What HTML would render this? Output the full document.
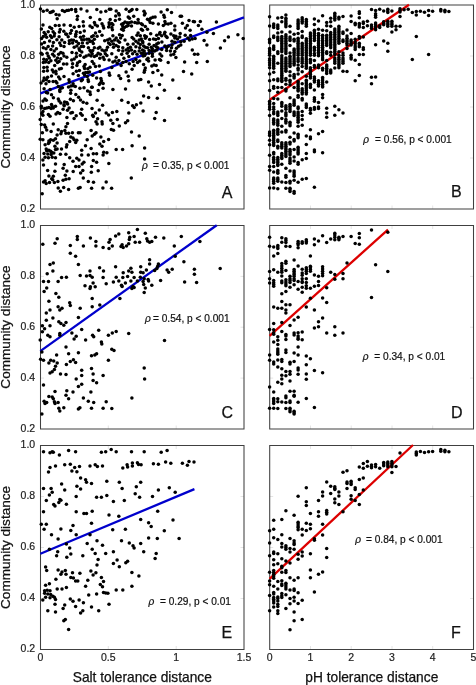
<!DOCTYPE html><html><head><meta charset="utf-8"><style>html,body{margin:0;padding:0;background:#fff;width:476px;height:685px;overflow:hidden}svg{display:block}text{font-family:"Liberation Sans",Arial,sans-serif}</style></head><body>
<svg width="476" height="685" viewBox="0 0 476 685">
<rect width="476" height="685" fill="#fff"/>
<line x1="108.3" y1="209.0" x2="108.3" y2="205.5" stroke="#ddd" stroke-width="0.8"/>
<line x1="108.3" y1="5.0" x2="108.3" y2="8.5" stroke="#ddd" stroke-width="0.8"/>
<line x1="176.2" y1="209.0" x2="176.2" y2="205.5" stroke="#ddd" stroke-width="0.8"/>
<line x1="176.2" y1="5.0" x2="176.2" y2="8.5" stroke="#ddd" stroke-width="0.8"/>
<line x1="40.5" y1="56.0" x2="44.0" y2="56.0" stroke="#ddd" stroke-width="0.8"/>
<line x1="244.0" y1="56.0" x2="240.5" y2="56.0" stroke="#ddd" stroke-width="0.8"/>
<line x1="40.5" y1="107.0" x2="44.0" y2="107.0" stroke="#ddd" stroke-width="0.8"/>
<line x1="244.0" y1="107.0" x2="240.5" y2="107.0" stroke="#ddd" stroke-width="0.8"/>
<line x1="40.5" y1="158.0" x2="44.0" y2="158.0" stroke="#ddd" stroke-width="0.8"/>
<line x1="244.0" y1="158.0" x2="240.5" y2="158.0" stroke="#ddd" stroke-width="0.8"/>
<path d="M40.5 4.5V209.5M40.0 209.0H244.5M244.0 209.5V4.5M244.5 5.0H40.0" stroke="#404040" stroke-width="1.05" fill="none"/>
<line x1="40.5" y1="93.3" x2="244.0" y2="17.3" stroke="#0000cc" stroke-width="2.3"/>
<g fill="#000"><circle cx="96.8" cy="9.6" r="1.75"/><circle cx="100.9" cy="12.0" r="1.75"/><circle cx="105.8" cy="11.2" r="1.75"/><circle cx="109.4" cy="9.3" r="1.75"/><circle cx="110.8" cy="9.3" r="1.75"/><circle cx="116.2" cy="10.9" r="1.75"/><circle cx="118.6" cy="13.4" r="1.75"/><circle cx="119.3" cy="15.0" r="1.75"/><circle cx="126.1" cy="9.3" r="1.75"/><circle cx="129.3" cy="11.5" r="1.75"/><circle cx="131.0" cy="10.6" r="1.75"/><circle cx="132.1" cy="9.6" r="1.75"/><circle cx="136.8" cy="9.6" r="1.75"/><circle cx="99.8" cy="19.6" r="1.75"/><circle cx="110.2" cy="19.4" r="1.75"/><circle cx="115.7" cy="16.1" r="1.75"/><circle cx="119.5" cy="19.2" r="1.75"/><circle cx="115.3" cy="20.5" r="1.75"/><circle cx="128.2" cy="17.0" r="1.75"/><circle cx="129.5" cy="18.3" r="1.75"/><circle cx="133.7" cy="16.3" r="1.75"/><circle cx="138.1" cy="19.4" r="1.75"/><circle cx="141.3" cy="23.8" r="1.75"/><circle cx="94.4" cy="22.4" r="1.75"/><circle cx="95.2" cy="24.8" r="1.75"/><circle cx="97.4" cy="25.9" r="1.75"/><circle cx="92.2" cy="27.6" r="1.75"/><circle cx="102.0" cy="23.8" r="1.75"/><circle cx="103.1" cy="25.9" r="1.75"/><circle cx="103.7" cy="27.9" r="1.75"/><circle cx="109.1" cy="22.7" r="1.75"/><circle cx="109.4" cy="24.6" r="1.75"/><circle cx="111.8" cy="23.5" r="1.75"/><circle cx="112.9" cy="24.8" r="1.75"/><circle cx="108.6" cy="27.0" r="1.75"/><circle cx="111.8" cy="27.6" r="1.75"/><circle cx="112.4" cy="29.8" r="1.75"/><circle cx="121.7" cy="24.3" r="1.75"/><circle cx="123.3" cy="23.5" r="1.75"/><circle cx="125.0" cy="22.1" r="1.75"/><circle cx="127.1" cy="22.7" r="1.75"/><circle cx="129.3" cy="22.7" r="1.75"/><circle cx="131.5" cy="22.1" r="1.75"/><circle cx="134.8" cy="22.4" r="1.75"/><circle cx="137.0" cy="22.9" r="1.75"/><circle cx="138.6" cy="22.7" r="1.75"/><circle cx="122.8" cy="26.5" r="1.75"/><circle cx="124.4" cy="27.6" r="1.75"/><circle cx="126.6" cy="26.2" r="1.75"/><circle cx="128.2" cy="25.4" r="1.75"/><circle cx="131.5" cy="25.9" r="1.75"/><circle cx="121.7" cy="29.2" r="1.75"/><circle cx="123.3" cy="30.3" r="1.75"/><circle cx="141.3" cy="29.2" r="1.75"/><circle cx="95.5" cy="33.0" r="1.75"/><circle cx="99.6" cy="31.6" r="1.75"/><circle cx="102.0" cy="35.2" r="1.75"/><circle cx="138.1" cy="33.0" r="1.75"/><circle cx="93.3" cy="35.8" r="1.75"/><circle cx="97.1" cy="36.3" r="1.75"/><circle cx="112.9" cy="35.8" r="1.75"/><circle cx="119.5" cy="34.7" r="1.75"/><circle cx="122.2" cy="35.6" r="1.75"/><circle cx="116.2" cy="38.0" r="1.75"/><circle cx="120.6" cy="38.0" r="1.75"/><circle cx="132.1" cy="37.4" r="1.75"/><circle cx="137.0" cy="35.2" r="1.75"/><circle cx="140.3" cy="35.8" r="1.75"/><circle cx="94.4" cy="39.3" r="1.75"/><circle cx="92.2" cy="41.2" r="1.75"/><circle cx="104.7" cy="40.7" r="1.75"/><circle cx="107.5" cy="40.1" r="1.75"/><circle cx="109.7" cy="39.1" r="1.75"/><circle cx="111.8" cy="41.2" r="1.75"/><circle cx="114.6" cy="40.1" r="1.75"/><circle cx="117.9" cy="40.7" r="1.75"/><circle cx="125.0" cy="40.1" r="1.75"/><circle cx="133.7" cy="39.1" r="1.75"/><circle cx="135.9" cy="41.2" r="1.75"/><circle cx="139.2" cy="40.1" r="1.75"/><circle cx="141.3" cy="39.1" r="1.75"/><circle cx="93.3" cy="43.4" r="1.75"/><circle cx="108.6" cy="42.9" r="1.75"/><circle cx="110.2" cy="44.5" r="1.75"/><circle cx="113.5" cy="44.0" r="1.75"/><circle cx="119.5" cy="42.3" r="1.75"/><circle cx="127.7" cy="44.3" r="1.75"/><circle cx="133.2" cy="44.0" r="1.75"/><circle cx="138.1" cy="42.9" r="1.75"/><circle cx="140.3" cy="44.5" r="1.75"/><circle cx="94.4" cy="47.8" r="1.75"/><circle cx="98.2" cy="48.3" r="1.75"/><circle cx="99.8" cy="47.2" r="1.75"/><circle cx="107.5" cy="47.2" r="1.75"/><circle cx="113.5" cy="47.2" r="1.75"/><circle cx="116.2" cy="45.6" r="1.75"/><circle cx="118.4" cy="46.7" r="1.75"/><circle cx="122.8" cy="47.8" r="1.75"/><circle cx="128.2" cy="48.3" r="1.75"/><circle cx="130.4" cy="47.2" r="1.75"/><circle cx="135.9" cy="46.7" r="1.75"/><circle cx="139.7" cy="47.8" r="1.75"/><circle cx="92.7" cy="50.5" r="1.75"/><circle cx="102.0" cy="50.0" r="1.75"/><circle cx="104.2" cy="51.1" r="1.75"/><circle cx="106.4" cy="50.0" r="1.75"/><circle cx="118.6" cy="50.2" r="1.75"/><circle cx="122.8" cy="51.1" r="1.75"/><circle cx="126.1" cy="50.0" r="1.75"/><circle cx="128.8" cy="51.1" r="1.75"/><circle cx="131.5" cy="50.0" r="1.75"/><circle cx="134.8" cy="51.6" r="1.75"/><circle cx="139.2" cy="51.1" r="1.75"/><circle cx="92.2" cy="53.8" r="1.75"/><circle cx="98.2" cy="53.3" r="1.75"/><circle cx="100.4" cy="54.3" r="1.75"/><circle cx="105.3" cy="53.8" r="1.75"/><circle cx="111.8" cy="53.8" r="1.75"/><circle cx="121.7" cy="54.3" r="1.75"/><circle cx="127.1" cy="53.3" r="1.75"/><circle cx="132.6" cy="53.8" r="1.75"/><circle cx="137.0" cy="54.3" r="1.75"/><circle cx="141.3" cy="53.3" r="1.75"/><circle cx="144.0" cy="11.2" r="1.75"/><circle cx="145.1" cy="13.4" r="1.75"/><circle cx="144.4" cy="15.0" r="1.75"/><circle cx="161.1" cy="12.0" r="1.75"/><circle cx="167.3" cy="9.8" r="1.75"/><circle cx="171.5" cy="12.6" r="1.75"/><circle cx="163.8" cy="15.2" r="1.75"/><circle cx="164.4" cy="17.2" r="1.75"/><circle cx="180.2" cy="16.3" r="1.75"/><circle cx="181.5" cy="16.3" r="1.75"/><circle cx="147.5" cy="19.2" r="1.75"/><circle cx="149.1" cy="20.3" r="1.75"/><circle cx="150.7" cy="18.3" r="1.75"/><circle cx="152.9" cy="17.2" r="1.75"/><circle cx="155.1" cy="17.0" r="1.75"/><circle cx="150.2" cy="22.4" r="1.75"/><circle cx="152.9" cy="23.2" r="1.75"/><circle cx="158.4" cy="24.0" r="1.75"/><circle cx="164.9" cy="21.6" r="1.75"/><circle cx="165.5" cy="23.8" r="1.75"/><circle cx="168.2" cy="24.0" r="1.75"/><circle cx="170.9" cy="23.2" r="1.75"/><circle cx="163.3" cy="25.4" r="1.75"/><circle cx="142.5" cy="24.8" r="1.75"/><circle cx="145.3" cy="26.5" r="1.75"/><circle cx="174.8" cy="25.9" r="1.75"/><circle cx="182.4" cy="23.2" r="1.75"/><circle cx="187.3" cy="25.4" r="1.75"/><circle cx="189.0" cy="20.5" r="1.75"/><circle cx="193.3" cy="21.6" r="1.75"/><circle cx="185.5" cy="28.1" r="1.75"/><circle cx="147.5" cy="29.2" r="1.75"/><circle cx="142.5" cy="30.3" r="1.75"/><circle cx="160.0" cy="32.5" r="1.75"/><circle cx="164.9" cy="32.3" r="1.75"/><circle cx="170.9" cy="34.1" r="1.75"/><circle cx="174.8" cy="30.1" r="1.75"/><circle cx="173.7" cy="35.8" r="1.75"/><circle cx="175.9" cy="36.3" r="1.75"/><circle cx="180.2" cy="33.4" r="1.75"/><circle cx="185.2" cy="35.2" r="1.75"/><circle cx="190.1" cy="30.3" r="1.75"/><circle cx="190.6" cy="35.6" r="1.75"/><circle cx="174.8" cy="38.0" r="1.75"/><circle cx="177.5" cy="39.1" r="1.75"/><circle cx="179.7" cy="36.9" r="1.75"/><circle cx="187.9" cy="38.0" r="1.75"/><circle cx="189.5" cy="40.1" r="1.75"/><circle cx="192.3" cy="39.1" r="1.75"/><circle cx="172.0" cy="41.2" r="1.75"/><circle cx="174.8" cy="42.3" r="1.75"/><circle cx="180.8" cy="41.8" r="1.75"/><circle cx="184.1" cy="41.2" r="1.75"/><circle cx="168.2" cy="46.2" r="1.75"/><circle cx="172.0" cy="45.1" r="1.75"/><circle cx="178.6" cy="46.2" r="1.75"/><circle cx="180.8" cy="45.1" r="1.75"/><circle cx="171.5" cy="47.8" r="1.75"/><circle cx="176.4" cy="48.3" r="1.75"/><circle cx="170.4" cy="51.1" r="1.75"/><circle cx="174.8" cy="51.6" r="1.75"/><circle cx="192.3" cy="50.0" r="1.75"/><circle cx="173.7" cy="54.3" r="1.75"/><circle cx="194.5" cy="21.8" r="1.75"/><circle cx="200.3" cy="21.4" r="1.75"/><circle cx="198.4" cy="25.4" r="1.75"/><circle cx="201.9" cy="29.2" r="1.75"/><circle cx="206.9" cy="32.3" r="1.75"/><circle cx="213.4" cy="33.6" r="1.75"/><circle cx="216.4" cy="22.1" r="1.75"/><circle cx="195.1" cy="38.5" r="1.75"/><circle cx="204.1" cy="40.4" r="1.75"/><circle cx="206.9" cy="45.1" r="1.75"/><circle cx="224.6" cy="40.7" r="1.75"/><circle cx="228.4" cy="37.1" r="1.75"/><circle cx="237.9" cy="34.7" r="1.75"/><circle cx="243.2" cy="38.5" r="1.75"/><circle cx="220.4" cy="48.0" r="1.75"/><circle cx="197.8" cy="54.3" r="1.75"/><circle cx="194.5" cy="54.3" r="1.75"/><circle cx="64.2" cy="105.8" r="1.75"/><circle cx="52.2" cy="106.3" r="1.75"/><circle cx="55.5" cy="106.3" r="1.75"/><circle cx="41.3" cy="106.3" r="1.75"/><circle cx="94.4" cy="56.6" r="1.75"/><circle cx="96.6" cy="55.5" r="1.75"/><circle cx="99.8" cy="58.3" r="1.75"/><circle cx="103.1" cy="57.2" r="1.75"/><circle cx="104.2" cy="59.4" r="1.75"/><circle cx="106.9" cy="55.5" r="1.75"/><circle cx="109.1" cy="59.9" r="1.75"/><circle cx="112.9" cy="62.1" r="1.75"/><circle cx="115.1" cy="61.0" r="1.75"/><circle cx="116.2" cy="57.2" r="1.75"/><circle cx="117.3" cy="63.2" r="1.75"/><circle cx="118.9" cy="60.5" r="1.75"/><circle cx="121.1" cy="65.4" r="1.75"/><circle cx="122.8" cy="62.6" r="1.75"/><circle cx="123.9" cy="58.3" r="1.75"/><circle cx="126.1" cy="61.6" r="1.75"/><circle cx="128.8" cy="56.6" r="1.75"/><circle cx="129.3" cy="63.7" r="1.75"/><circle cx="133.2" cy="61.6" r="1.75"/><circle cx="134.2" cy="65.4" r="1.75"/><circle cx="135.9" cy="59.4" r="1.75"/><circle cx="137.5" cy="62.6" r="1.75"/><circle cx="139.7" cy="61.0" r="1.75"/><circle cx="132.1" cy="69.2" r="1.75"/><circle cx="92.2" cy="61.6" r="1.75"/><circle cx="93.8" cy="63.7" r="1.75"/><circle cx="95.5" cy="66.5" r="1.75"/><circle cx="99.3" cy="65.9" r="1.75"/><circle cx="100.4" cy="71.4" r="1.75"/><circle cx="111.8" cy="67.6" r="1.75"/><circle cx="92.7" cy="75.2" r="1.75"/><circle cx="96.6" cy="77.9" r="1.75"/><circle cx="100.9" cy="78.5" r="1.75"/><circle cx="101.5" cy="80.7" r="1.75"/><circle cx="109.1" cy="73.0" r="1.75"/><circle cx="109.7" cy="75.2" r="1.75"/><circle cx="118.9" cy="75.8" r="1.75"/><circle cx="120.6" cy="78.5" r="1.75"/><circle cx="126.1" cy="71.9" r="1.75"/><circle cx="128.2" cy="76.3" r="1.75"/><circle cx="128.8" cy="80.7" r="1.75"/><circle cx="138.6" cy="80.1" r="1.75"/><circle cx="140.8" cy="79.6" r="1.75"/><circle cx="100.4" cy="82.9" r="1.75"/><circle cx="99.3" cy="84.5" r="1.75"/><circle cx="103.1" cy="83.4" r="1.75"/><circle cx="92.2" cy="87.2" r="1.75"/><circle cx="98.2" cy="90.5" r="1.75"/><circle cx="103.1" cy="88.3" r="1.75"/><circle cx="112.9" cy="89.4" r="1.75"/><circle cx="125.5" cy="88.9" r="1.75"/><circle cx="97.1" cy="100.3" r="1.75"/><circle cx="121.7" cy="100.3" r="1.75"/><circle cx="128.2" cy="102.5" r="1.75"/><circle cx="102.6" cy="105.3" r="1.75"/><circle cx="132.6" cy="105.8" r="1.75"/><circle cx="136.4" cy="104.7" r="1.75"/><circle cx="140.8" cy="103.1" r="1.75"/><circle cx="143.1" cy="56.1" r="1.75"/><circle cx="144.7" cy="55.5" r="1.75"/><circle cx="146.9" cy="59.4" r="1.75"/><circle cx="148.0" cy="58.3" r="1.75"/><circle cx="148.6" cy="61.0" r="1.75"/><circle cx="152.4" cy="56.3" r="1.75"/><circle cx="155.1" cy="59.9" r="1.75"/><circle cx="159.5" cy="59.4" r="1.75"/><circle cx="160.6" cy="60.2" r="1.75"/><circle cx="161.7" cy="55.9" r="1.75"/><circle cx="170.9" cy="55.0" r="1.75"/><circle cx="175.9" cy="57.4" r="1.75"/><circle cx="168.2" cy="62.4" r="1.75"/><circle cx="184.6" cy="62.1" r="1.75"/><circle cx="143.6" cy="64.6" r="1.75"/><circle cx="151.8" cy="65.9" r="1.75"/><circle cx="154.0" cy="65.1" r="1.75"/><circle cx="156.2" cy="65.4" r="1.75"/><circle cx="145.3" cy="68.1" r="1.75"/><circle cx="144.7" cy="70.3" r="1.75"/><circle cx="144.2" cy="72.3" r="1.75"/><circle cx="152.9" cy="72.5" r="1.75"/><circle cx="157.8" cy="70.5" r="1.75"/><circle cx="161.7" cy="74.9" r="1.75"/><circle cx="183.5" cy="71.6" r="1.75"/><circle cx="191.7" cy="74.1" r="1.75"/><circle cx="148.6" cy="82.1" r="1.75"/><circle cx="151.3" cy="86.1" r="1.75"/><circle cx="159.5" cy="84.5" r="1.75"/><circle cx="172.8" cy="79.9" r="1.75"/><circle cx="164.4" cy="90.2" r="1.75"/><circle cx="143.6" cy="96.0" r="1.75"/><circle cx="148.6" cy="97.6" r="1.75"/><circle cx="157.3" cy="98.2" r="1.75"/><circle cx="179.1" cy="98.2" r="1.75"/><circle cx="196.7" cy="62.4" r="1.75"/><circle cx="207.3" cy="61.6" r="1.75"/><circle cx="41.3" cy="108.1" r="1.75"/><circle cx="44.6" cy="108.6" r="1.75"/><circle cx="46.7" cy="108.1" r="1.75"/><circle cx="48.9" cy="107.5" r="1.75"/><circle cx="51.1" cy="108.6" r="1.75"/><circle cx="53.3" cy="108.1" r="1.75"/><circle cx="42.9" cy="111.4" r="1.75"/><circle cx="41.8" cy="113.6" r="1.75"/><circle cx="42.9" cy="115.2" r="1.75"/><circle cx="48.4" cy="114.6" r="1.75"/><circle cx="50.0" cy="116.3" r="1.75"/><circle cx="56.0" cy="114.1" r="1.75"/><circle cx="57.7" cy="112.5" r="1.75"/><circle cx="59.8" cy="113.6" r="1.75"/><circle cx="63.1" cy="109.2" r="1.75"/><circle cx="67.5" cy="110.3" r="1.75"/><circle cx="69.1" cy="108.1" r="1.75"/><circle cx="70.8" cy="113.0" r="1.75"/><circle cx="72.4" cy="112.5" r="1.75"/><circle cx="66.9" cy="117.4" r="1.75"/><circle cx="74.1" cy="118.5" r="1.75"/><circle cx="76.2" cy="115.7" r="1.75"/><circle cx="80.6" cy="113.6" r="1.75"/><circle cx="82.2" cy="115.2" r="1.75"/><circle cx="81.7" cy="109.2" r="1.75"/><circle cx="85.5" cy="119.6" r="1.75"/><circle cx="40.2" cy="119.6" r="1.75"/><circle cx="41.3" cy="124.5" r="1.75"/><circle cx="44.6" cy="125.0" r="1.75"/><circle cx="45.6" cy="127.2" r="1.75"/><circle cx="53.3" cy="123.9" r="1.75"/><circle cx="67.5" cy="123.4" r="1.75"/><circle cx="65.9" cy="126.7" r="1.75"/><circle cx="46.7" cy="129.9" r="1.75"/><circle cx="42.4" cy="132.7" r="1.75"/><circle cx="51.1" cy="131.6" r="1.75"/><circle cx="58.2" cy="129.7" r="1.75"/><circle cx="61.5" cy="131.6" r="1.75"/><circle cx="60.9" cy="133.8" r="1.75"/><circle cx="64.8" cy="130.5" r="1.75"/><circle cx="65.9" cy="133.2" r="1.75"/><circle cx="68.6" cy="133.2" r="1.75"/><circle cx="72.4" cy="132.7" r="1.75"/><circle cx="78.4" cy="132.7" r="1.75"/><circle cx="80.1" cy="132.7" r="1.75"/><circle cx="57.1" cy="134.9" r="1.75"/><circle cx="40.2" cy="139.2" r="1.75"/><circle cx="42.9" cy="139.8" r="1.75"/><circle cx="48.9" cy="140.9" r="1.75"/><circle cx="50.6" cy="139.8" r="1.75"/><circle cx="53.3" cy="140.3" r="1.75"/><circle cx="55.5" cy="138.7" r="1.75"/><circle cx="70.8" cy="137.0" r="1.75"/><circle cx="73.0" cy="138.1" r="1.75"/><circle cx="74.1" cy="139.8" r="1.75"/><circle cx="76.8" cy="140.3" r="1.75"/><circle cx="75.7" cy="142.5" r="1.75"/><circle cx="69.7" cy="141.4" r="1.75"/><circle cx="87.2" cy="139.8" r="1.75"/><circle cx="45.1" cy="144.7" r="1.75"/><circle cx="48.4" cy="143.6" r="1.75"/><circle cx="49.5" cy="142.0" r="1.75"/><circle cx="57.1" cy="143.1" r="1.75"/><circle cx="66.9" cy="144.7" r="1.75"/><circle cx="66.4" cy="146.9" r="1.75"/><circle cx="54.9" cy="146.3" r="1.75"/><circle cx="85.5" cy="145.8" r="1.75"/><circle cx="46.2" cy="149.1" r="1.75"/><circle cx="46.7" cy="150.7" r="1.75"/><circle cx="48.9" cy="150.2" r="1.75"/><circle cx="50.6" cy="151.2" r="1.75"/><circle cx="51.7" cy="152.3" r="1.75"/><circle cx="55.5" cy="149.6" r="1.75"/><circle cx="57.1" cy="149.1" r="1.75"/><circle cx="61.5" cy="149.1" r="1.75"/><circle cx="81.7" cy="150.2" r="1.75"/><circle cx="44.0" cy="153.4" r="1.75"/><circle cx="47.8" cy="154.0" r="1.75"/><circle cx="51.1" cy="154.5" r="1.75"/><circle cx="53.8" cy="152.9" r="1.75"/><circle cx="60.4" cy="154.2" r="1.75"/><circle cx="65.9" cy="154.2" r="1.75"/><circle cx="81.7" cy="155.1" r="1.75"/><circle cx="88.3" cy="155.1" r="1.75"/><circle cx="45.1" cy="157.3" r="1.75"/><circle cx="48.4" cy="157.8" r="1.75"/><circle cx="52.2" cy="157.3" r="1.75"/><circle cx="55.5" cy="157.8" r="1.75"/><circle cx="69.7" cy="157.8" r="1.75"/><circle cx="76.8" cy="158.3" r="1.75"/><circle cx="92.0" cy="108.6" r="1.75"/><circle cx="99.3" cy="110.1" r="1.75"/><circle cx="134.2" cy="107.5" r="1.75"/><circle cx="95.5" cy="113.0" r="1.75"/><circle cx="92.7" cy="115.2" r="1.75"/><circle cx="93.3" cy="116.6" r="1.75"/><circle cx="106.2" cy="113.0" r="1.75"/><circle cx="108.6" cy="114.9" r="1.75"/><circle cx="112.4" cy="112.5" r="1.75"/><circle cx="116.8" cy="111.4" r="1.75"/><circle cx="128.8" cy="113.0" r="1.75"/><circle cx="97.6" cy="118.8" r="1.75"/><circle cx="96.0" cy="121.7" r="1.75"/><circle cx="97.1" cy="123.9" r="1.75"/><circle cx="102.0" cy="121.7" r="1.75"/><circle cx="102.2" cy="123.9" r="1.75"/><circle cx="110.8" cy="120.3" r="1.75"/><circle cx="112.9" cy="123.4" r="1.75"/><circle cx="117.3" cy="119.6" r="1.75"/><circle cx="119.3" cy="126.1" r="1.75"/><circle cx="125.5" cy="122.8" r="1.75"/><circle cx="127.7" cy="120.7" r="1.75"/><circle cx="91.1" cy="130.5" r="1.75"/><circle cx="111.3" cy="129.4" r="1.75"/><circle cx="113.5" cy="130.2" r="1.75"/><circle cx="131.5" cy="131.9" r="1.75"/><circle cx="96.0" cy="132.7" r="1.75"/><circle cx="94.4" cy="134.3" r="1.75"/><circle cx="92.2" cy="135.9" r="1.75"/><circle cx="100.9" cy="137.0" r="1.75"/><circle cx="139.2" cy="135.9" r="1.75"/><circle cx="108.6" cy="139.6" r="1.75"/><circle cx="103.7" cy="141.4" r="1.75"/><circle cx="99.8" cy="144.1" r="1.75"/><circle cx="102.0" cy="146.3" r="1.75"/><circle cx="132.1" cy="145.8" r="1.75"/><circle cx="91.1" cy="148.5" r="1.75"/><circle cx="116.2" cy="149.4" r="1.75"/><circle cx="122.6" cy="149.4" r="1.75"/><circle cx="93.3" cy="153.8" r="1.75"/><circle cx="96.6" cy="153.8" r="1.75"/><circle cx="103.7" cy="152.3" r="1.75"/><circle cx="106.9" cy="152.7" r="1.75"/><circle cx="103.1" cy="155.1" r="1.75"/><circle cx="143.1" cy="110.9" r="1.75"/><circle cx="156.2" cy="112.5" r="1.75"/><circle cx="154.7" cy="118.4" r="1.75"/><circle cx="164.5" cy="120.5" r="1.75"/><circle cx="144.6" cy="148.1" r="1.75"/><circle cx="144.6" cy="159.0" r="1.75"/><circle cx="42.9" cy="160.1" r="1.75"/><circle cx="43.5" cy="165.0" r="1.75"/><circle cx="55.5" cy="163.9" r="1.75"/><circle cx="64.2" cy="164.5" r="1.75"/><circle cx="73.0" cy="161.2" r="1.75"/><circle cx="79.0" cy="160.1" r="1.75"/><circle cx="82.2" cy="163.9" r="1.75"/><circle cx="83.9" cy="162.3" r="1.75"/><circle cx="75.7" cy="166.4" r="1.75"/><circle cx="79.0" cy="166.6" r="1.75"/><circle cx="47.6" cy="170.5" r="1.75"/><circle cx="54.9" cy="171.2" r="1.75"/><circle cx="63.1" cy="168.3" r="1.75"/><circle cx="66.9" cy="171.0" r="1.75"/><circle cx="73.2" cy="171.6" r="1.75"/><circle cx="80.6" cy="173.0" r="1.75"/><circle cx="82.8" cy="170.5" r="1.75"/><circle cx="48.9" cy="175.9" r="1.75"/><circle cx="53.3" cy="176.3" r="1.75"/><circle cx="51.7" cy="178.7" r="1.75"/><circle cx="52.7" cy="179.8" r="1.75"/><circle cx="65.3" cy="175.2" r="1.75"/><circle cx="43.5" cy="181.9" r="1.75"/><circle cx="45.1" cy="180.8" r="1.75"/><circle cx="46.2" cy="183.6" r="1.75"/><circle cx="49.5" cy="182.5" r="1.75"/><circle cx="54.4" cy="182.5" r="1.75"/><circle cx="57.9" cy="181.4" r="1.75"/><circle cx="63.1" cy="180.3" r="1.75"/><circle cx="65.9" cy="179.2" r="1.75"/><circle cx="69.1" cy="178.7" r="1.75"/><circle cx="83.3" cy="178.1" r="1.75"/><circle cx="88.3" cy="181.4" r="1.75"/><circle cx="58.2" cy="187.9" r="1.75"/><circle cx="60.4" cy="191.2" r="1.75"/><circle cx="63.7" cy="187.6" r="1.75"/><circle cx="68.6" cy="189.4" r="1.75"/><circle cx="78.4" cy="188.3" r="1.75"/><circle cx="80.1" cy="187.4" r="1.75"/><circle cx="42.2" cy="193.7" r="1.75"/><circle cx="93.3" cy="160.6" r="1.75"/><circle cx="96.6" cy="162.3" r="1.75"/><circle cx="108.8" cy="163.6" r="1.75"/><circle cx="91.6" cy="166.6" r="1.75"/><circle cx="91.3" cy="172.3" r="1.75"/><circle cx="98.2" cy="170.8" r="1.75"/><circle cx="93.5" cy="182.2" r="1.75"/><circle cx="106.2" cy="181.9" r="1.75"/><circle cx="91.6" cy="188.3" r="1.75"/><circle cx="102.9" cy="188.1" r="1.75"/><circle cx="111.6" cy="188.3" r="1.75"/><circle cx="131.3" cy="178.1" r="1.75"/><circle cx="40.5" cy="9.1" r="1.75"/><circle cx="43.3" cy="11.3" r="1.75"/><circle cx="47.1" cy="10.2" r="1.75"/><circle cx="50.1" cy="12.4" r="1.75"/><circle cx="51.7" cy="12.1" r="1.75"/><circle cx="53.1" cy="11.3" r="1.75"/><circle cx="56.1" cy="14.6" r="1.75"/><circle cx="59.1" cy="15.1" r="1.75"/><circle cx="57.2" cy="18.7" r="1.75"/><circle cx="62.4" cy="10.5" r="1.75"/><circle cx="64.6" cy="11.6" r="1.75"/><circle cx="66.8" cy="10.5" r="1.75"/><circle cx="68.7" cy="10.2" r="1.75"/><circle cx="71.5" cy="9.6" r="1.75"/><circle cx="75.6" cy="9.4" r="1.75"/><circle cx="75.8" cy="11.6" r="1.75"/><circle cx="81.0" cy="9.1" r="1.75"/><circle cx="87.0" cy="11.0" r="1.75"/><circle cx="77.5" cy="16.2" r="1.75"/><circle cx="77.2" cy="19.5" r="1.75"/><circle cx="90.3" cy="17.6" r="1.75"/><circle cx="83.2" cy="21.7" r="1.75"/><circle cx="43.0" cy="25.0" r="1.75"/><circle cx="49.8" cy="27.2" r="1.75"/><circle cx="51.7" cy="28.6" r="1.75"/><circle cx="55.3" cy="25.5" r="1.75"/><circle cx="59.1" cy="25.5" r="1.75"/><circle cx="64.0" cy="25.0" r="1.75"/><circle cx="41.4" cy="29.1" r="1.75"/><circle cx="44.1" cy="32.4" r="1.75"/><circle cx="48.2" cy="31.8" r="1.75"/><circle cx="53.1" cy="31.8" r="1.75"/><circle cx="54.5" cy="33.5" r="1.75"/><circle cx="60.2" cy="29.6" r="1.75"/><circle cx="59.4" cy="32.1" r="1.75"/><circle cx="63.8" cy="31.3" r="1.75"/><circle cx="65.7" cy="34.0" r="1.75"/><circle cx="45.5" cy="34.6" r="1.75"/><circle cx="46.6" cy="37.3" r="1.75"/><circle cx="43.3" cy="36.5" r="1.75"/><circle cx="50.4" cy="35.7" r="1.75"/><circle cx="51.7" cy="37.6" r="1.75"/><circle cx="54.2" cy="35.9" r="1.75"/><circle cx="59.1" cy="36.7" r="1.75"/><circle cx="41.6" cy="38.4" r="1.75"/><circle cx="56.9" cy="39.7" r="1.75"/><circle cx="61.8" cy="40.0" r="1.75"/><circle cx="49.6" cy="41.1" r="1.75"/><circle cx="44.4" cy="42.5" r="1.75"/><circle cx="53.4" cy="42.5" r="1.75"/><circle cx="59.7" cy="43.0" r="1.75"/><circle cx="41.6" cy="44.1" r="1.75"/><circle cx="64.6" cy="42.5" r="1.75"/><circle cx="70.4" cy="25.5" r="1.75"/><circle cx="74.2" cy="27.2" r="1.75"/><circle cx="79.1" cy="26.4" r="1.75"/><circle cx="83.5" cy="26.1" r="1.75"/><circle cx="90.0" cy="26.1" r="1.75"/><circle cx="71.5" cy="30.5" r="1.75"/><circle cx="70.4" cy="33.2" r="1.75"/><circle cx="76.4" cy="31.8" r="1.75"/><circle cx="75.8" cy="34.3" r="1.75"/><circle cx="80.2" cy="32.6" r="1.75"/><circle cx="84.3" cy="31.0" r="1.75"/><circle cx="66.5" cy="34.3" r="1.75"/><circle cx="68.2" cy="36.7" r="1.75"/><circle cx="75.6" cy="36.2" r="1.75"/><circle cx="80.5" cy="37.3" r="1.75"/><circle cx="83.5" cy="36.2" r="1.75"/><circle cx="91.7" cy="36.7" r="1.75"/><circle cx="69.3" cy="40.8" r="1.75"/><circle cx="71.5" cy="40.0" r="1.75"/><circle cx="73.6" cy="40.3" r="1.75"/><circle cx="76.4" cy="41.4" r="1.75"/><circle cx="81.8" cy="39.7" r="1.75"/><circle cx="84.0" cy="39.7" r="1.75"/><circle cx="86.8" cy="39.2" r="1.75"/><circle cx="88.9" cy="39.2" r="1.75"/><circle cx="90.0" cy="41.4" r="1.75"/><circle cx="69.3" cy="43.6" r="1.75"/><circle cx="72.6" cy="43.0" r="1.75"/><circle cx="78.6" cy="43.6" r="1.75"/><circle cx="82.4" cy="43.0" r="1.75"/><circle cx="87.3" cy="43.0" r="1.75"/><circle cx="43.3" cy="47.7" r="1.75"/><circle cx="46.0" cy="48.8" r="1.75"/><circle cx="48.2" cy="46.6" r="1.75"/><circle cx="50.9" cy="49.4" r="1.75"/><circle cx="52.6" cy="46.1" r="1.75"/><circle cx="54.2" cy="51.0" r="1.75"/><circle cx="56.4" cy="48.8" r="1.75"/><circle cx="60.8" cy="45.5" r="1.75"/><circle cx="64.0" cy="46.6" r="1.75"/><circle cx="41.1" cy="53.2" r="1.75"/><circle cx="42.2" cy="54.3" r="1.75"/><circle cx="47.1" cy="53.2" r="1.75"/><circle cx="48.2" cy="55.9" r="1.75"/><circle cx="52.6" cy="54.3" r="1.75"/><circle cx="54.2" cy="55.9" r="1.75"/><circle cx="58.6" cy="54.3" r="1.75"/><circle cx="60.8" cy="52.6" r="1.75"/><circle cx="62.9" cy="53.2" r="1.75"/><circle cx="64.0" cy="55.9" r="1.75"/><circle cx="43.8" cy="59.2" r="1.75"/><circle cx="46.6" cy="59.7" r="1.75"/><circle cx="49.3" cy="58.1" r="1.75"/><circle cx="50.9" cy="60.8" r="1.75"/><circle cx="55.8" cy="60.3" r="1.75"/><circle cx="57.5" cy="58.1" r="1.75"/><circle cx="60.8" cy="58.7" r="1.75"/><circle cx="43.3" cy="62.5" r="1.75"/><circle cx="45.5" cy="61.9" r="1.75"/><circle cx="48.7" cy="62.5" r="1.75"/><circle cx="57.5" cy="62.5" r="1.75"/><circle cx="59.1" cy="61.4" r="1.75"/><circle cx="63.5" cy="64.1" r="1.75"/><circle cx="74.2" cy="47.2" r="1.75"/><circle cx="76.9" cy="46.1" r="1.75"/><circle cx="79.1" cy="48.8" r="1.75"/><circle cx="81.3" cy="46.6" r="1.75"/><circle cx="83.5" cy="46.6" r="1.75"/><circle cx="79.7" cy="50.5" r="1.75"/><circle cx="81.8" cy="52.1" r="1.75"/><circle cx="88.4" cy="47.7" r="1.75"/><circle cx="90.0" cy="50.5" r="1.75"/><circle cx="91.1" cy="52.1" r="1.75"/><circle cx="72.0" cy="52.4" r="1.75"/><circle cx="76.4" cy="53.2" r="1.75"/><circle cx="80.2" cy="55.4" r="1.75"/><circle cx="76.4" cy="56.7" r="1.75"/><circle cx="66.8" cy="57.3" r="1.75"/><circle cx="84.0" cy="57.3" r="1.75"/><circle cx="86.2" cy="55.9" r="1.75"/><circle cx="88.9" cy="55.1" r="1.75"/><circle cx="91.1" cy="55.9" r="1.75"/><circle cx="74.2" cy="58.9" r="1.75"/><circle cx="71.7" cy="60.0" r="1.75"/><circle cx="79.7" cy="61.4" r="1.75"/><circle cx="77.5" cy="63.0" r="1.75"/><circle cx="72.6" cy="63.8" r="1.75"/><circle cx="85.1" cy="64.4" r="1.75"/><circle cx="66.8" cy="64.1" r="1.75"/><circle cx="43.8" cy="67.5" r="1.75"/><circle cx="47.1" cy="67.2" r="1.75"/><circle cx="43.6" cy="71.3" r="1.75"/><circle cx="47.4" cy="70.7" r="1.75"/><circle cx="52.3" cy="69.9" r="1.75"/><circle cx="53.4" cy="72.1" r="1.75"/><circle cx="55.8" cy="71.3" r="1.75"/><circle cx="56.1" cy="73.7" r="1.75"/><circle cx="54.7" cy="65.5" r="1.75"/><circle cx="59.4" cy="69.1" r="1.75"/><circle cx="61.3" cy="68.6" r="1.75"/><circle cx="64.0" cy="76.5" r="1.75"/><circle cx="51.5" cy="75.9" r="1.75"/><circle cx="58.6" cy="77.0" r="1.75"/><circle cx="59.9" cy="78.9" r="1.75"/><circle cx="44.1" cy="78.1" r="1.75"/><circle cx="47.6" cy="77.3" r="1.75"/><circle cx="43.3" cy="80.8" r="1.75"/><circle cx="46.3" cy="79.7" r="1.75"/><circle cx="49.0" cy="81.4" r="1.75"/><circle cx="53.1" cy="81.4" r="1.75"/><circle cx="55.8" cy="81.4" r="1.75"/><circle cx="56.9" cy="83.0" r="1.75"/><circle cx="41.1" cy="83.0" r="1.75"/><circle cx="46.0" cy="83.8" r="1.75"/><circle cx="72.3" cy="67.2" r="1.75"/><circle cx="76.9" cy="65.5" r="1.75"/><circle cx="84.0" cy="66.6" r="1.75"/><circle cx="84.6" cy="68.6" r="1.75"/><circle cx="87.8" cy="68.8" r="1.75"/><circle cx="90.0" cy="67.2" r="1.75"/><circle cx="76.4" cy="71.3" r="1.75"/><circle cx="79.4" cy="70.5" r="1.75"/><circle cx="73.1" cy="73.7" r="1.75"/><circle cx="78.3" cy="75.4" r="1.75"/><circle cx="83.5" cy="73.2" r="1.75"/><circle cx="85.7" cy="72.4" r="1.75"/><circle cx="87.8" cy="72.6" r="1.75"/><circle cx="89.5" cy="72.1" r="1.75"/><circle cx="84.6" cy="75.1" r="1.75"/><circle cx="87.3" cy="76.5" r="1.75"/><circle cx="82.4" cy="79.7" r="1.75"/><circle cx="81.3" cy="80.8" r="1.75"/><circle cx="88.1" cy="79.7" r="1.75"/><circle cx="88.4" cy="81.4" r="1.75"/><circle cx="69.0" cy="79.7" r="1.75"/><circle cx="69.3" cy="81.9" r="1.75"/><circle cx="73.1" cy="83.8" r="1.75"/><circle cx="44.1" cy="88.8" r="1.75"/><circle cx="50.1" cy="89.4" r="1.75"/><circle cx="46.3" cy="92.6" r="1.75"/><circle cx="47.6" cy="92.9" r="1.75"/><circle cx="58.3" cy="86.6" r="1.75"/><circle cx="60.8" cy="88.3" r="1.75"/><circle cx="62.4" cy="87.7" r="1.75"/><circle cx="59.7" cy="89.9" r="1.75"/><circle cx="59.9" cy="91.6" r="1.75"/><circle cx="51.5" cy="94.8" r="1.75"/><circle cx="53.4" cy="97.8" r="1.75"/><circle cx="44.9" cy="98.9" r="1.75"/><circle cx="43.0" cy="101.1" r="1.75"/><circle cx="46.3" cy="100.3" r="1.75"/><circle cx="58.3" cy="98.9" r="1.75"/><circle cx="59.1" cy="101.1" r="1.75"/><circle cx="60.8" cy="103.0" r="1.75"/><circle cx="64.6" cy="101.9" r="1.75"/><circle cx="51.5" cy="104.4" r="1.75"/><circle cx="64.0" cy="104.7" r="1.75"/><circle cx="68.5" cy="86.9" r="1.75"/><circle cx="70.9" cy="86.1" r="1.75"/><circle cx="73.1" cy="85.8" r="1.75"/><circle cx="75.3" cy="86.6" r="1.75"/><circle cx="70.9" cy="90.2" r="1.75"/><circle cx="70.6" cy="93.2" r="1.75"/><circle cx="79.9" cy="88.3" r="1.75"/><circle cx="84.0" cy="87.7" r="1.75"/><circle cx="87.6" cy="91.0" r="1.75"/><circle cx="90.0" cy="92.1" r="1.75"/><circle cx="90.3" cy="94.6" r="1.75"/><circle cx="91.7" cy="87.2" r="1.75"/><circle cx="75.8" cy="94.6" r="1.75"/><circle cx="78.6" cy="97.3" r="1.75"/><circle cx="80.5" cy="100.0" r="1.75"/><circle cx="83.2" cy="102.2" r="1.75"/><circle cx="86.8" cy="103.3" r="1.75"/><circle cx="70.4" cy="99.2" r="1.75"/><circle cx="73.4" cy="100.8" r="1.75"/><circle cx="66.8" cy="102.5" r="1.75"/><circle cx="67.6" cy="104.1" r="1.75"/><circle cx="150.7" cy="33.8" r="1.75"/><circle cx="156.7" cy="35.2" r="1.75"/><circle cx="159.5" cy="34.1" r="1.75"/><circle cx="161.7" cy="35.7" r="1.75"/><circle cx="164.4" cy="34.1" r="1.75"/><circle cx="166.0" cy="36.3" r="1.75"/><circle cx="167.1" cy="37.4" r="1.75"/><circle cx="144.7" cy="35.7" r="1.75"/><circle cx="146.4" cy="36.8" r="1.75"/><circle cx="145.3" cy="38.2" r="1.75"/><circle cx="149.6" cy="39.6" r="1.75"/><circle cx="153.5" cy="39.0" r="1.75"/><circle cx="155.7" cy="39.6" r="1.75"/><circle cx="158.4" cy="38.5" r="1.75"/><circle cx="142.5" cy="41.2" r="1.75"/><circle cx="142.8" cy="42.8" r="1.75"/><circle cx="149.1" cy="44.2" r="1.75"/><circle cx="154.0" cy="45.6" r="1.75"/><circle cx="156.7" cy="43.9" r="1.75"/><circle cx="158.4" cy="43.1" r="1.75"/><circle cx="161.9" cy="42.0" r="1.75"/><circle cx="143.6" cy="46.1" r="1.75"/><circle cx="145.3" cy="47.2" r="1.75"/><circle cx="147.5" cy="47.7" r="1.75"/><circle cx="151.3" cy="47.2" r="1.75"/><circle cx="152.4" cy="48.8" r="1.75"/><circle cx="156.2" cy="46.7" r="1.75"/><circle cx="157.8" cy="47.7" r="1.75"/><circle cx="164.9" cy="46.1" r="1.75"/><circle cx="166.6" cy="47.7" r="1.75"/><circle cx="142.5" cy="49.9" r="1.75"/><circle cx="144.2" cy="51.0" r="1.75"/><circle cx="149.1" cy="50.5" r="1.75"/><circle cx="151.8" cy="50.5" r="1.75"/><circle cx="154.6" cy="51.0" r="1.75"/><circle cx="156.7" cy="49.9" r="1.75"/><circle cx="161.7" cy="49.4" r="1.75"/><circle cx="166.6" cy="50.5" r="1.75"/><circle cx="143.1" cy="53.2" r="1.75"/><circle cx="145.3" cy="53.8" r="1.75"/><circle cx="149.1" cy="53.2" r="1.75"/><circle cx="152.4" cy="53.8" r="1.75"/><circle cx="160.0" cy="54.0" r="1.75"/></g>
<line x1="310.5" y1="209.0" x2="310.5" y2="205.5" stroke="#ddd" stroke-width="0.8"/>
<line x1="310.5" y1="5.0" x2="310.5" y2="8.5" stroke="#ddd" stroke-width="0.8"/>
<line x1="351.2" y1="209.0" x2="351.2" y2="205.5" stroke="#ddd" stroke-width="0.8"/>
<line x1="351.2" y1="5.0" x2="351.2" y2="8.5" stroke="#ddd" stroke-width="0.8"/>
<line x1="392.0" y1="209.0" x2="392.0" y2="205.5" stroke="#ddd" stroke-width="0.8"/>
<line x1="392.0" y1="5.0" x2="392.0" y2="8.5" stroke="#ddd" stroke-width="0.8"/>
<line x1="432.7" y1="209.0" x2="432.7" y2="205.5" stroke="#ddd" stroke-width="0.8"/>
<line x1="432.7" y1="5.0" x2="432.7" y2="8.5" stroke="#ddd" stroke-width="0.8"/>
<line x1="269.7" y1="56.0" x2="273.2" y2="56.0" stroke="#ddd" stroke-width="0.8"/>
<line x1="473.5" y1="56.0" x2="470.0" y2="56.0" stroke="#ddd" stroke-width="0.8"/>
<line x1="269.7" y1="107.0" x2="273.2" y2="107.0" stroke="#ddd" stroke-width="0.8"/>
<line x1="473.5" y1="107.0" x2="470.0" y2="107.0" stroke="#ddd" stroke-width="0.8"/>
<line x1="269.7" y1="158.0" x2="273.2" y2="158.0" stroke="#ddd" stroke-width="0.8"/>
<line x1="473.5" y1="158.0" x2="470.0" y2="158.0" stroke="#ddd" stroke-width="0.8"/>
<path d="M269.7 4.5V209.5M269.2 209.0H474.0M473.5 209.5V4.5M474.0 5.0H269.2" stroke="#404040" stroke-width="1.05" fill="none"/>
<line x1="269.8" y1="99.8" x2="409.0" y2="4.8" stroke="#dd0000" stroke-width="2.3"/>
<g fill="#000"><circle cx="269.6" cy="16.8" r="1.75"/><circle cx="269.6" cy="25.9" r="1.75"/><circle cx="269.6" cy="39.3" r="1.75"/><circle cx="269.6" cy="41.0" r="1.75"/><circle cx="269.6" cy="42.7" r="1.75"/><circle cx="269.6" cy="48.4" r="1.75"/><circle cx="269.6" cy="50.1" r="1.75"/><circle cx="269.6" cy="51.8" r="1.75"/><circle cx="269.6" cy="53.5" r="1.75"/><circle cx="269.6" cy="55.2" r="1.75"/><circle cx="273.7" cy="24.0" r="1.75"/><circle cx="273.7" cy="25.7" r="1.75"/><circle cx="273.7" cy="27.4" r="1.75"/><circle cx="273.7" cy="35.9" r="1.75"/><circle cx="273.7" cy="37.6" r="1.75"/><circle cx="273.7" cy="46.1" r="1.75"/><circle cx="273.7" cy="47.8" r="1.75"/><circle cx="273.7" cy="49.5" r="1.75"/><circle cx="273.7" cy="56.3" r="1.75"/><circle cx="277.8" cy="18.0" r="1.75"/><circle cx="277.8" cy="25.1" r="1.75"/><circle cx="277.8" cy="26.8" r="1.75"/><circle cx="277.8" cy="28.5" r="1.75"/><circle cx="277.8" cy="33.1" r="1.75"/><circle cx="277.8" cy="37.0" r="1.75"/><circle cx="277.8" cy="38.7" r="1.75"/><circle cx="277.8" cy="40.4" r="1.75"/><circle cx="277.8" cy="51.8" r="1.75"/><circle cx="277.8" cy="53.5" r="1.75"/><circle cx="281.8" cy="17.5" r="1.75"/><circle cx="281.8" cy="21.7" r="1.75"/><circle cx="281.8" cy="31.9" r="1.75"/><circle cx="281.8" cy="36.5" r="1.75"/><circle cx="281.8" cy="38.2" r="1.75"/><circle cx="281.8" cy="39.9" r="1.75"/><circle cx="281.8" cy="41.6" r="1.75"/><circle cx="281.8" cy="43.3" r="1.75"/><circle cx="281.8" cy="45.0" r="1.75"/><circle cx="281.8" cy="46.7" r="1.75"/><circle cx="281.8" cy="48.4" r="1.75"/><circle cx="281.8" cy="50.1" r="1.75"/><circle cx="281.8" cy="51.8" r="1.75"/><circle cx="281.8" cy="55.8" r="1.75"/><circle cx="285.9" cy="14.9" r="1.75"/><circle cx="285.9" cy="18.3" r="1.75"/><circle cx="285.9" cy="20.0" r="1.75"/><circle cx="285.9" cy="21.7" r="1.75"/><circle cx="285.9" cy="23.4" r="1.75"/><circle cx="285.9" cy="25.1" r="1.75"/><circle cx="285.9" cy="26.8" r="1.75"/><circle cx="285.9" cy="34.8" r="1.75"/><circle cx="285.9" cy="36.5" r="1.75"/><circle cx="285.9" cy="38.2" r="1.75"/><circle cx="285.9" cy="39.9" r="1.75"/><circle cx="285.9" cy="41.6" r="1.75"/><circle cx="285.9" cy="43.3" r="1.75"/><circle cx="285.9" cy="45.0" r="1.75"/><circle cx="285.9" cy="46.7" r="1.75"/><circle cx="285.9" cy="48.4" r="1.75"/><circle cx="285.9" cy="50.1" r="1.75"/><circle cx="285.9" cy="51.8" r="1.75"/><circle cx="285.9" cy="53.5" r="1.75"/><circle cx="290.0" cy="26.3" r="1.75"/><circle cx="290.0" cy="31.9" r="1.75"/><circle cx="290.0" cy="37.0" r="1.75"/><circle cx="290.0" cy="38.7" r="1.75"/><circle cx="290.0" cy="40.4" r="1.75"/><circle cx="290.0" cy="45.5" r="1.75"/><circle cx="290.0" cy="52.9" r="1.75"/><circle cx="290.0" cy="56.3" r="1.75"/><circle cx="294.1" cy="34.2" r="1.75"/><circle cx="294.1" cy="39.3" r="1.75"/><circle cx="294.1" cy="41.0" r="1.75"/><circle cx="294.1" cy="48.9" r="1.75"/><circle cx="294.1" cy="50.6" r="1.75"/><circle cx="294.1" cy="52.3" r="1.75"/><circle cx="294.1" cy="54.1" r="1.75"/><circle cx="294.1" cy="55.8" r="1.75"/><circle cx="298.1" cy="20.0" r="1.75"/><circle cx="298.1" cy="21.7" r="1.75"/><circle cx="298.1" cy="23.4" r="1.75"/><circle cx="298.1" cy="25.1" r="1.75"/><circle cx="298.1" cy="26.8" r="1.75"/><circle cx="298.1" cy="28.5" r="1.75"/><circle cx="298.1" cy="33.6" r="1.75"/><circle cx="298.1" cy="38.2" r="1.75"/><circle cx="298.1" cy="39.9" r="1.75"/><circle cx="298.1" cy="41.6" r="1.75"/><circle cx="298.1" cy="43.3" r="1.75"/><circle cx="298.1" cy="45.0" r="1.75"/><circle cx="298.1" cy="46.7" r="1.75"/><circle cx="298.1" cy="48.4" r="1.75"/><circle cx="298.1" cy="50.1" r="1.75"/><circle cx="298.1" cy="51.8" r="1.75"/><circle cx="298.1" cy="53.5" r="1.75"/><circle cx="298.1" cy="55.2" r="1.75"/><circle cx="302.2" cy="17.7" r="1.75"/><circle cx="302.2" cy="19.4" r="1.75"/><circle cx="302.2" cy="21.2" r="1.75"/><circle cx="302.2" cy="22.9" r="1.75"/><circle cx="302.2" cy="31.4" r="1.75"/><circle cx="302.2" cy="35.9" r="1.75"/><circle cx="302.2" cy="37.6" r="1.75"/><circle cx="302.2" cy="43.3" r="1.75"/><circle cx="302.2" cy="45.0" r="1.75"/><circle cx="302.2" cy="46.7" r="1.75"/><circle cx="302.2" cy="48.4" r="1.75"/><circle cx="302.2" cy="50.1" r="1.75"/><circle cx="302.2" cy="51.8" r="1.75"/><circle cx="302.2" cy="53.5" r="1.75"/><circle cx="302.2" cy="55.2" r="1.75"/><circle cx="306.3" cy="19.4" r="1.75"/><circle cx="306.3" cy="21.2" r="1.75"/><circle cx="306.3" cy="22.9" r="1.75"/><circle cx="306.3" cy="24.6" r="1.75"/><circle cx="306.3" cy="26.3" r="1.75"/><circle cx="306.3" cy="38.7" r="1.75"/><circle cx="306.3" cy="40.4" r="1.75"/><circle cx="306.3" cy="42.1" r="1.75"/><circle cx="306.3" cy="43.8" r="1.75"/><circle cx="306.3" cy="45.5" r="1.75"/><circle cx="306.3" cy="47.2" r="1.75"/><circle cx="306.3" cy="48.9" r="1.75"/><circle cx="306.3" cy="50.6" r="1.75"/><circle cx="306.3" cy="52.3" r="1.75"/><circle cx="306.3" cy="54.1" r="1.75"/><circle cx="306.3" cy="55.8" r="1.75"/><circle cx="310.4" cy="33.1" r="1.75"/><circle cx="310.4" cy="34.8" r="1.75"/><circle cx="310.4" cy="36.5" r="1.75"/><circle cx="310.4" cy="38.2" r="1.75"/><circle cx="310.4" cy="39.9" r="1.75"/><circle cx="310.4" cy="41.6" r="1.75"/><circle cx="310.4" cy="43.3" r="1.75"/><circle cx="310.4" cy="45.0" r="1.75"/><circle cx="310.4" cy="46.7" r="1.75"/><circle cx="310.4" cy="48.4" r="1.75"/><circle cx="310.4" cy="50.1" r="1.75"/><circle cx="310.4" cy="51.8" r="1.75"/><circle cx="310.4" cy="53.5" r="1.75"/><circle cx="310.4" cy="55.2" r="1.75"/><circle cx="314.4" cy="18.9" r="1.75"/><circle cx="314.4" cy="24.6" r="1.75"/><circle cx="314.4" cy="30.2" r="1.75"/><circle cx="314.4" cy="31.9" r="1.75"/><circle cx="314.4" cy="33.6" r="1.75"/><circle cx="314.4" cy="35.3" r="1.75"/><circle cx="314.4" cy="37.0" r="1.75"/><circle cx="314.4" cy="38.7" r="1.75"/><circle cx="314.4" cy="40.4" r="1.75"/><circle cx="314.4" cy="47.2" r="1.75"/><circle cx="314.4" cy="48.9" r="1.75"/><circle cx="314.4" cy="50.6" r="1.75"/><circle cx="314.4" cy="53.5" r="1.75"/><circle cx="314.4" cy="55.2" r="1.75"/><circle cx="318.5" cy="20.9" r="1.75"/><circle cx="318.5" cy="29.3" r="1.75"/><circle cx="318.5" cy="33.6" r="1.75"/><circle cx="318.5" cy="35.3" r="1.75"/><circle cx="318.5" cy="37.0" r="1.75"/><circle cx="318.5" cy="38.7" r="1.75"/><circle cx="318.5" cy="40.4" r="1.75"/><circle cx="318.5" cy="42.1" r="1.75"/><circle cx="318.5" cy="43.8" r="1.75"/><circle cx="318.5" cy="45.5" r="1.75"/><circle cx="318.5" cy="47.2" r="1.75"/><circle cx="318.5" cy="48.9" r="1.75"/><circle cx="318.5" cy="50.6" r="1.75"/><circle cx="318.5" cy="52.3" r="1.75"/><circle cx="318.5" cy="54.1" r="1.75"/><circle cx="318.5" cy="55.8" r="1.75"/><circle cx="322.6" cy="15.7" r="1.75"/><circle cx="322.6" cy="30.2" r="1.75"/><circle cx="322.6" cy="35.3" r="1.75"/><circle cx="322.6" cy="37.0" r="1.75"/><circle cx="322.6" cy="38.7" r="1.75"/><circle cx="322.6" cy="40.4" r="1.75"/><circle cx="322.6" cy="42.1" r="1.75"/><circle cx="322.6" cy="43.8" r="1.75"/><circle cx="322.6" cy="45.5" r="1.75"/><circle cx="322.6" cy="47.2" r="1.75"/><circle cx="322.6" cy="48.9" r="1.75"/><circle cx="322.6" cy="50.6" r="1.75"/><circle cx="322.6" cy="52.3" r="1.75"/><circle cx="322.6" cy="54.1" r="1.75"/><circle cx="322.6" cy="55.8" r="1.75"/><circle cx="326.7" cy="22.5" r="1.75"/><circle cx="326.7" cy="25.7" r="1.75"/><circle cx="326.7" cy="30.8" r="1.75"/><circle cx="326.7" cy="35.3" r="1.75"/><circle cx="326.7" cy="37.0" r="1.75"/><circle cx="326.7" cy="38.7" r="1.75"/><circle cx="326.7" cy="40.4" r="1.75"/><circle cx="326.7" cy="42.1" r="1.75"/><circle cx="326.7" cy="43.8" r="1.75"/><circle cx="326.7" cy="45.5" r="1.75"/><circle cx="326.7" cy="51.8" r="1.75"/><circle cx="326.7" cy="53.5" r="1.75"/><circle cx="330.7" cy="18.3" r="1.75"/><circle cx="330.7" cy="21.7" r="1.75"/><circle cx="330.7" cy="26.3" r="1.75"/><circle cx="330.7" cy="32.5" r="1.75"/><circle cx="330.7" cy="34.2" r="1.75"/><circle cx="330.7" cy="35.9" r="1.75"/><circle cx="330.7" cy="37.6" r="1.75"/><circle cx="330.7" cy="39.3" r="1.75"/><circle cx="330.7" cy="41.0" r="1.75"/><circle cx="330.7" cy="42.7" r="1.75"/><circle cx="330.7" cy="44.4" r="1.75"/><circle cx="330.7" cy="46.1" r="1.75"/><circle cx="330.7" cy="47.8" r="1.75"/><circle cx="330.7" cy="52.3" r="1.75"/><circle cx="330.7" cy="55.2" r="1.75"/><circle cx="334.8" cy="13.2" r="1.75"/><circle cx="334.8" cy="14.9" r="1.75"/><circle cx="334.8" cy="16.6" r="1.75"/><circle cx="334.8" cy="18.3" r="1.75"/><circle cx="334.8" cy="20.0" r="1.75"/><circle cx="334.8" cy="29.1" r="1.75"/><circle cx="334.8" cy="30.8" r="1.75"/><circle cx="334.8" cy="32.5" r="1.75"/><circle cx="334.8" cy="34.2" r="1.75"/><circle cx="334.8" cy="35.9" r="1.75"/><circle cx="334.8" cy="37.6" r="1.75"/><circle cx="334.8" cy="39.3" r="1.75"/><circle cx="334.8" cy="41.0" r="1.75"/><circle cx="334.8" cy="42.7" r="1.75"/><circle cx="334.8" cy="44.4" r="1.75"/><circle cx="334.8" cy="46.1" r="1.75"/><circle cx="334.8" cy="47.8" r="1.75"/><circle cx="334.8" cy="49.5" r="1.75"/><circle cx="334.8" cy="51.2" r="1.75"/><circle cx="334.8" cy="52.9" r="1.75"/><circle cx="334.8" cy="54.6" r="1.75"/><circle cx="338.9" cy="17.2" r="1.75"/><circle cx="338.9" cy="18.9" r="1.75"/><circle cx="338.9" cy="26.3" r="1.75"/><circle cx="338.9" cy="28.0" r="1.75"/><circle cx="338.9" cy="29.7" r="1.75"/><circle cx="338.9" cy="31.4" r="1.75"/><circle cx="338.9" cy="33.1" r="1.75"/><circle cx="338.9" cy="34.8" r="1.75"/><circle cx="338.9" cy="36.5" r="1.75"/><circle cx="338.9" cy="38.2" r="1.75"/><circle cx="338.9" cy="39.9" r="1.75"/><circle cx="338.9" cy="41.6" r="1.75"/><circle cx="338.9" cy="43.3" r="1.75"/><circle cx="338.9" cy="51.8" r="1.75"/><circle cx="338.9" cy="55.2" r="1.75"/><circle cx="343.0" cy="16.4" r="1.75"/><circle cx="343.0" cy="31.9" r="1.75"/><circle cx="343.0" cy="33.6" r="1.75"/><circle cx="343.0" cy="39.9" r="1.75"/><circle cx="343.0" cy="41.6" r="1.75"/><circle cx="343.0" cy="52.9" r="1.75"/><circle cx="343.0" cy="55.2" r="1.75"/><circle cx="347.0" cy="30.0" r="1.75"/><circle cx="347.0" cy="36.1" r="1.75"/><circle cx="347.0" cy="38.2" r="1.75"/><circle cx="347.0" cy="39.9" r="1.75"/><circle cx="347.0" cy="41.6" r="1.75"/><circle cx="347.0" cy="43.3" r="1.75"/><circle cx="347.0" cy="45.0" r="1.75"/><circle cx="347.0" cy="48.4" r="1.75"/><circle cx="351.1" cy="16.0" r="1.75"/><circle cx="351.1" cy="21.4" r="1.75"/><circle cx="351.1" cy="33.6" r="1.75"/><circle cx="351.1" cy="39.9" r="1.75"/><circle cx="351.1" cy="41.6" r="1.75"/><circle cx="351.1" cy="43.3" r="1.75"/><circle cx="351.1" cy="45.0" r="1.75"/><circle cx="351.1" cy="55.2" r="1.75"/><circle cx="355.2" cy="23.2" r="1.75"/><circle cx="355.2" cy="24.8" r="1.75"/><circle cx="355.2" cy="39.3" r="1.75"/><circle cx="355.2" cy="42.1" r="1.75"/><circle cx="355.2" cy="43.8" r="1.75"/><circle cx="355.2" cy="46.1" r="1.75"/><circle cx="355.2" cy="47.8" r="1.75"/><circle cx="355.2" cy="49.5" r="1.75"/><circle cx="359.3" cy="11.8" r="1.75"/><circle cx="359.3" cy="13.4" r="1.75"/><circle cx="359.3" cy="17.7" r="1.75"/><circle cx="359.3" cy="23.6" r="1.75"/><circle cx="359.3" cy="25.1" r="1.75"/><circle cx="359.3" cy="27.1" r="1.75"/><circle cx="359.3" cy="36.5" r="1.75"/><circle cx="359.3" cy="38.2" r="1.75"/><circle cx="359.3" cy="43.3" r="1.75"/><circle cx="359.3" cy="45.0" r="1.75"/><circle cx="359.3" cy="46.7" r="1.75"/><circle cx="359.3" cy="54.6" r="1.75"/><circle cx="363.3" cy="22.1" r="1.75"/><circle cx="363.3" cy="23.6" r="1.75"/><circle cx="363.3" cy="27.4" r="1.75"/><circle cx="363.3" cy="37.0" r="1.75"/><circle cx="363.3" cy="47.8" r="1.75"/><circle cx="363.3" cy="49.5" r="1.75"/><circle cx="363.3" cy="54.6" r="1.75"/><circle cx="367.4" cy="21.2" r="1.75"/><circle cx="367.4" cy="25.7" r="1.75"/><circle cx="371.5" cy="9.6" r="1.75"/><circle cx="371.5" cy="25.1" r="1.75"/><circle cx="371.5" cy="26.8" r="1.75"/><circle cx="371.5" cy="28.5" r="1.75"/><circle cx="375.6" cy="44.7" r="1.75"/><circle cx="375.6" cy="10.4" r="1.75"/><circle cx="375.6" cy="13.8" r="1.75"/><circle cx="375.6" cy="15.5" r="1.75"/><circle cx="375.6" cy="17.2" r="1.75"/><circle cx="375.6" cy="22.9" r="1.75"/><circle cx="375.6" cy="24.6" r="1.75"/><circle cx="375.6" cy="26.3" r="1.75"/><circle cx="375.6" cy="28.0" r="1.75"/><circle cx="375.6" cy="29.7" r="1.75"/><circle cx="379.7" cy="9.2" r="1.75"/><circle cx="379.7" cy="25.7" r="1.75"/><circle cx="379.7" cy="27.4" r="1.75"/><circle cx="383.7" cy="10.9" r="1.75"/><circle cx="383.7" cy="21.7" r="1.75"/><circle cx="383.7" cy="23.4" r="1.75"/><circle cx="383.7" cy="24.8" r="1.75"/><circle cx="383.7" cy="41.0" r="1.75"/><circle cx="387.8" cy="9.2" r="1.75"/><circle cx="387.8" cy="10.9" r="1.75"/><circle cx="387.8" cy="12.6" r="1.75"/><circle cx="387.8" cy="21.2" r="1.75"/><circle cx="387.8" cy="22.9" r="1.75"/><circle cx="387.8" cy="24.6" r="1.75"/><circle cx="387.8" cy="26.3" r="1.75"/><circle cx="387.8" cy="43.3" r="1.75"/><circle cx="387.8" cy="51.2" r="1.75"/><circle cx="391.9" cy="10.9" r="1.75"/><circle cx="391.9" cy="21.2" r="1.75"/><circle cx="391.9" cy="22.9" r="1.75"/><circle cx="391.9" cy="24.6" r="1.75"/><circle cx="391.9" cy="26.3" r="1.75"/><circle cx="391.9" cy="31.9" r="1.75"/><circle cx="396.0" cy="26.3" r="1.75"/><circle cx="396.0" cy="29.7" r="1.75"/><circle cx="400.0" cy="8.7" r="1.75"/><circle cx="400.0" cy="10.4" r="1.75"/><circle cx="400.0" cy="12.1" r="1.75"/><circle cx="400.0" cy="16.6" r="1.75"/><circle cx="400.0" cy="26.3" r="1.75"/><circle cx="404.1" cy="9.8" r="1.75"/><circle cx="408.2" cy="9.2" r="1.75"/><circle cx="412.3" cy="12.6" r="1.75"/><circle cx="416.3" cy="11.5" r="1.75"/><circle cx="416.3" cy="14.9" r="1.75"/><circle cx="416.3" cy="36.5" r="1.75"/><circle cx="420.4" cy="11.2" r="1.75"/><circle cx="424.5" cy="12.3" r="1.75"/><circle cx="428.6" cy="10.4" r="1.75"/><circle cx="428.6" cy="54.6" r="1.75"/><circle cx="428.6" cy="15.4" r="1.75"/><circle cx="432.6" cy="11.2" r="1.75"/><circle cx="440.8" cy="9.5" r="1.75"/><circle cx="440.8" cy="11.0" r="1.75"/><circle cx="444.9" cy="10.3" r="1.75"/><circle cx="444.9" cy="11.8" r="1.75"/><circle cx="448.9" cy="11.5" r="1.75"/><circle cx="269.6" cy="58.7" r="1.75"/><circle cx="269.6" cy="60.4" r="1.75"/><circle cx="269.6" cy="62.7" r="1.75"/><circle cx="269.6" cy="64.9" r="1.75"/><circle cx="269.6" cy="67.8" r="1.75"/><circle cx="269.6" cy="74.0" r="1.75"/><circle cx="269.6" cy="80.8" r="1.75"/><circle cx="269.6" cy="90.5" r="1.75"/><circle cx="269.6" cy="101.2" r="1.75"/><circle cx="269.6" cy="102.9" r="1.75"/><circle cx="269.6" cy="104.6" r="1.75"/><circle cx="269.6" cy="106.9" r="1.75"/><circle cx="269.6" cy="109.2" r="1.75"/><circle cx="273.7" cy="58.1" r="1.75"/><circle cx="273.7" cy="59.8" r="1.75"/><circle cx="273.7" cy="61.5" r="1.75"/><circle cx="273.7" cy="63.2" r="1.75"/><circle cx="273.7" cy="64.9" r="1.75"/><circle cx="273.7" cy="66.6" r="1.75"/><circle cx="273.7" cy="68.3" r="1.75"/><circle cx="273.7" cy="72.3" r="1.75"/><circle cx="273.7" cy="79.7" r="1.75"/><circle cx="273.7" cy="86.5" r="1.75"/><circle cx="273.7" cy="88.2" r="1.75"/><circle cx="273.7" cy="98.4" r="1.75"/><circle cx="273.7" cy="103.5" r="1.75"/><circle cx="273.7" cy="106.9" r="1.75"/><circle cx="273.7" cy="109.2" r="1.75"/><circle cx="277.8" cy="63.2" r="1.75"/><circle cx="277.8" cy="79.1" r="1.75"/><circle cx="277.8" cy="80.8" r="1.75"/><circle cx="277.8" cy="87.6" r="1.75"/><circle cx="277.8" cy="92.2" r="1.75"/><circle cx="277.8" cy="99.0" r="1.75"/><circle cx="281.8" cy="58.1" r="1.75"/><circle cx="281.8" cy="59.8" r="1.75"/><circle cx="281.8" cy="61.5" r="1.75"/><circle cx="281.8" cy="63.2" r="1.75"/><circle cx="281.8" cy="64.9" r="1.75"/><circle cx="281.8" cy="66.6" r="1.75"/><circle cx="281.8" cy="68.3" r="1.75"/><circle cx="281.8" cy="70.0" r="1.75"/><circle cx="281.8" cy="71.7" r="1.75"/><circle cx="281.8" cy="73.4" r="1.75"/><circle cx="281.8" cy="75.2" r="1.75"/><circle cx="281.8" cy="76.9" r="1.75"/><circle cx="281.8" cy="78.6" r="1.75"/><circle cx="281.8" cy="80.3" r="1.75"/><circle cx="281.8" cy="81.4" r="1.75"/><circle cx="281.8" cy="87.6" r="1.75"/><circle cx="281.8" cy="102.4" r="1.75"/><circle cx="281.8" cy="104.1" r="1.75"/><circle cx="281.8" cy="106.3" r="1.75"/><circle cx="285.9" cy="58.1" r="1.75"/><circle cx="285.9" cy="59.8" r="1.75"/><circle cx="285.9" cy="61.5" r="1.75"/><circle cx="285.9" cy="63.2" r="1.75"/><circle cx="285.9" cy="64.9" r="1.75"/><circle cx="285.9" cy="66.6" r="1.75"/><circle cx="285.9" cy="68.3" r="1.75"/><circle cx="285.9" cy="70.0" r="1.75"/><circle cx="285.9" cy="71.2" r="1.75"/><circle cx="285.9" cy="78.6" r="1.75"/><circle cx="285.9" cy="80.3" r="1.75"/><circle cx="285.9" cy="84.2" r="1.75"/><circle cx="285.9" cy="89.3" r="1.75"/><circle cx="285.9" cy="91.0" r="1.75"/><circle cx="285.9" cy="105.8" r="1.75"/><circle cx="285.9" cy="107.5" r="1.75"/><circle cx="285.9" cy="109.2" r="1.75"/><circle cx="290.0" cy="58.1" r="1.75"/><circle cx="290.0" cy="59.8" r="1.75"/><circle cx="290.0" cy="61.5" r="1.75"/><circle cx="290.0" cy="63.2" r="1.75"/><circle cx="290.0" cy="64.9" r="1.75"/><circle cx="290.0" cy="66.6" r="1.75"/><circle cx="290.0" cy="71.7" r="1.75"/><circle cx="290.0" cy="75.7" r="1.75"/><circle cx="290.0" cy="80.3" r="1.75"/><circle cx="290.0" cy="82.0" r="1.75"/><circle cx="290.0" cy="84.8" r="1.75"/><circle cx="290.0" cy="97.8" r="1.75"/><circle cx="290.0" cy="104.6" r="1.75"/><circle cx="290.0" cy="106.3" r="1.75"/><circle cx="290.0" cy="108.1" r="1.75"/><circle cx="290.0" cy="109.8" r="1.75"/><circle cx="294.1" cy="58.1" r="1.75"/><circle cx="294.1" cy="59.8" r="1.75"/><circle cx="294.1" cy="61.5" r="1.75"/><circle cx="294.1" cy="63.2" r="1.75"/><circle cx="294.1" cy="64.9" r="1.75"/><circle cx="294.1" cy="74.6" r="1.75"/><circle cx="294.1" cy="76.3" r="1.75"/><circle cx="294.1" cy="78.0" r="1.75"/><circle cx="294.1" cy="87.6" r="1.75"/><circle cx="294.1" cy="100.1" r="1.75"/><circle cx="294.1" cy="101.8" r="1.75"/><circle cx="294.1" cy="103.5" r="1.75"/><circle cx="294.1" cy="105.2" r="1.75"/><circle cx="298.1" cy="58.1" r="1.75"/><circle cx="298.1" cy="59.8" r="1.75"/><circle cx="298.1" cy="61.5" r="1.75"/><circle cx="298.1" cy="64.9" r="1.75"/><circle cx="298.1" cy="68.3" r="1.75"/><circle cx="298.1" cy="70.0" r="1.75"/><circle cx="298.1" cy="74.0" r="1.75"/><circle cx="298.1" cy="81.4" r="1.75"/><circle cx="298.1" cy="83.1" r="1.75"/><circle cx="298.1" cy="84.8" r="1.75"/><circle cx="298.1" cy="86.5" r="1.75"/><circle cx="298.1" cy="88.2" r="1.75"/><circle cx="298.1" cy="89.9" r="1.75"/><circle cx="298.1" cy="91.0" r="1.75"/><circle cx="298.1" cy="95.6" r="1.75"/><circle cx="298.1" cy="97.3" r="1.75"/><circle cx="298.1" cy="106.9" r="1.75"/><circle cx="298.1" cy="108.6" r="1.75"/><circle cx="302.2" cy="58.1" r="1.75"/><circle cx="302.2" cy="59.8" r="1.75"/><circle cx="302.2" cy="61.5" r="1.75"/><circle cx="302.2" cy="63.2" r="1.75"/><circle cx="302.2" cy="66.6" r="1.75"/><circle cx="302.2" cy="71.7" r="1.75"/><circle cx="302.2" cy="83.7" r="1.75"/><circle cx="302.2" cy="88.8" r="1.75"/><circle cx="302.2" cy="90.5" r="1.75"/><circle cx="302.2" cy="92.2" r="1.75"/><circle cx="302.2" cy="93.9" r="1.75"/><circle cx="302.2" cy="98.4" r="1.75"/><circle cx="302.2" cy="100.1" r="1.75"/><circle cx="306.3" cy="58.1" r="1.75"/><circle cx="306.3" cy="59.8" r="1.75"/><circle cx="306.3" cy="61.5" r="1.75"/><circle cx="306.3" cy="63.2" r="1.75"/><circle cx="306.3" cy="64.9" r="1.75"/><circle cx="306.3" cy="66.6" r="1.75"/><circle cx="306.3" cy="68.3" r="1.75"/><circle cx="306.3" cy="76.3" r="1.75"/><circle cx="306.3" cy="80.3" r="1.75"/><circle cx="306.3" cy="82.0" r="1.75"/><circle cx="306.3" cy="83.7" r="1.75"/><circle cx="306.3" cy="85.4" r="1.75"/><circle cx="306.3" cy="87.1" r="1.75"/><circle cx="306.3" cy="88.8" r="1.75"/><circle cx="306.3" cy="90.5" r="1.75"/><circle cx="306.3" cy="92.2" r="1.75"/><circle cx="306.3" cy="93.9" r="1.75"/><circle cx="306.3" cy="104.1" r="1.75"/><circle cx="306.3" cy="105.8" r="1.75"/><circle cx="306.3" cy="107.5" r="1.75"/><circle cx="310.4" cy="59.3" r="1.75"/><circle cx="310.4" cy="61.0" r="1.75"/><circle cx="310.4" cy="62.7" r="1.75"/><circle cx="310.4" cy="67.8" r="1.75"/><circle cx="310.4" cy="69.5" r="1.75"/><circle cx="310.4" cy="71.2" r="1.75"/><circle cx="310.4" cy="72.9" r="1.75"/><circle cx="310.4" cy="74.6" r="1.75"/><circle cx="310.4" cy="76.3" r="1.75"/><circle cx="310.4" cy="78.0" r="1.75"/><circle cx="310.4" cy="84.2" r="1.75"/><circle cx="310.4" cy="85.9" r="1.75"/><circle cx="310.4" cy="87.6" r="1.75"/><circle cx="310.4" cy="108.6" r="1.75"/><circle cx="310.4" cy="110.3" r="1.75"/><circle cx="314.4" cy="60.4" r="1.75"/><circle cx="314.4" cy="65.5" r="1.75"/><circle cx="314.4" cy="67.2" r="1.75"/><circle cx="314.4" cy="76.9" r="1.75"/><circle cx="314.4" cy="78.6" r="1.75"/><circle cx="314.4" cy="80.3" r="1.75"/><circle cx="314.4" cy="82.0" r="1.75"/><circle cx="314.4" cy="89.9" r="1.75"/><circle cx="314.4" cy="97.8" r="1.75"/><circle cx="314.4" cy="99.5" r="1.75"/><circle cx="314.4" cy="101.2" r="1.75"/><circle cx="314.4" cy="107.5" r="1.75"/><circle cx="314.4" cy="109.2" r="1.75"/><circle cx="318.5" cy="64.9" r="1.75"/><circle cx="318.5" cy="66.6" r="1.75"/><circle cx="318.5" cy="67.8" r="1.75"/><circle cx="318.5" cy="80.8" r="1.75"/><circle cx="318.5" cy="82.5" r="1.75"/><circle cx="318.5" cy="84.2" r="1.75"/><circle cx="318.5" cy="85.9" r="1.75"/><circle cx="318.5" cy="102.4" r="1.75"/><circle cx="318.5" cy="106.9" r="1.75"/><circle cx="318.5" cy="108.6" r="1.75"/><circle cx="322.6" cy="58.1" r="1.75"/><circle cx="322.6" cy="59.8" r="1.75"/><circle cx="322.6" cy="68.3" r="1.75"/><circle cx="322.6" cy="70.0" r="1.75"/><circle cx="322.6" cy="77.4" r="1.75"/><circle cx="322.6" cy="79.1" r="1.75"/><circle cx="322.6" cy="80.8" r="1.75"/><circle cx="322.6" cy="82.5" r="1.75"/><circle cx="322.6" cy="84.2" r="1.75"/><circle cx="322.6" cy="85.9" r="1.75"/><circle cx="322.6" cy="87.1" r="1.75"/><circle cx="322.6" cy="94.4" r="1.75"/><circle cx="322.6" cy="97.8" r="1.75"/><circle cx="326.7" cy="60.4" r="1.75"/><circle cx="326.7" cy="64.9" r="1.75"/><circle cx="326.7" cy="66.6" r="1.75"/><circle cx="326.7" cy="68.3" r="1.75"/><circle cx="326.7" cy="70.0" r="1.75"/><circle cx="326.7" cy="71.7" r="1.75"/><circle cx="326.7" cy="73.4" r="1.75"/><circle cx="326.7" cy="82.0" r="1.75"/><circle cx="326.7" cy="108.3" r="1.75"/><circle cx="330.7" cy="70.0" r="1.75"/><circle cx="330.7" cy="71.7" r="1.75"/><circle cx="330.7" cy="72.9" r="1.75"/><circle cx="334.8" cy="58.1" r="1.75"/><circle cx="334.8" cy="59.8" r="1.75"/><circle cx="334.8" cy="61.5" r="1.75"/><circle cx="334.8" cy="63.2" r="1.75"/><circle cx="334.8" cy="68.1" r="1.75"/><circle cx="334.8" cy="106.3" r="1.75"/><circle cx="338.9" cy="57.6" r="1.75"/><circle cx="338.9" cy="59.3" r="1.75"/><circle cx="338.9" cy="61.0" r="1.75"/><circle cx="338.9" cy="62.7" r="1.75"/><circle cx="338.9" cy="64.4" r="1.75"/><circle cx="338.9" cy="66.1" r="1.75"/><circle cx="338.9" cy="67.8" r="1.75"/><circle cx="338.9" cy="109.8" r="1.75"/><circle cx="343.0" cy="58.1" r="1.75"/><circle cx="343.0" cy="59.8" r="1.75"/><circle cx="343.0" cy="61.5" r="1.75"/><circle cx="343.0" cy="63.2" r="1.75"/><circle cx="343.0" cy="71.2" r="1.75"/><circle cx="347.0" cy="71.5" r="1.75"/><circle cx="351.1" cy="57.6" r="1.75"/><circle cx="351.1" cy="59.0" r="1.75"/><circle cx="355.2" cy="60.2" r="1.75"/><circle cx="355.2" cy="80.8" r="1.75"/><circle cx="359.3" cy="64.4" r="1.75"/><circle cx="359.3" cy="75.4" r="1.75"/><circle cx="371.5" cy="77.2" r="1.75"/><circle cx="371.5" cy="83.7" r="1.75"/><circle cx="375.6" cy="76.9" r="1.75"/><circle cx="412.3" cy="59.5" r="1.75"/><circle cx="269.6" cy="115.5" r="1.75"/><circle cx="269.6" cy="132.0" r="1.75"/><circle cx="269.6" cy="133.7" r="1.75"/><circle cx="269.6" cy="135.4" r="1.75"/><circle cx="269.6" cy="140.3" r="1.75"/><circle cx="269.6" cy="144.8" r="1.75"/><circle cx="269.6" cy="155.2" r="1.75"/><circle cx="273.7" cy="112.1" r="1.75"/><circle cx="273.7" cy="113.8" r="1.75"/><circle cx="273.7" cy="118.9" r="1.75"/><circle cx="273.7" cy="120.6" r="1.75"/><circle cx="273.7" cy="122.3" r="1.75"/><circle cx="273.7" cy="124.0" r="1.75"/><circle cx="273.7" cy="130.3" r="1.75"/><circle cx="273.7" cy="132.0" r="1.75"/><circle cx="273.7" cy="133.7" r="1.75"/><circle cx="273.7" cy="135.4" r="1.75"/><circle cx="273.7" cy="137.1" r="1.75"/><circle cx="273.7" cy="138.8" r="1.75"/><circle cx="273.7" cy="140.5" r="1.75"/><circle cx="273.7" cy="142.2" r="1.75"/><circle cx="273.7" cy="143.9" r="1.75"/><circle cx="273.7" cy="145.6" r="1.75"/><circle cx="273.7" cy="152.4" r="1.75"/><circle cx="273.7" cy="154.1" r="1.75"/><circle cx="273.7" cy="157.5" r="1.75"/><circle cx="273.7" cy="159.2" r="1.75"/><circle cx="273.7" cy="160.9" r="1.75"/><circle cx="273.7" cy="162.6" r="1.75"/><circle cx="277.8" cy="112.1" r="1.75"/><circle cx="277.8" cy="113.8" r="1.75"/><circle cx="277.8" cy="115.5" r="1.75"/><circle cx="277.8" cy="120.1" r="1.75"/><circle cx="277.8" cy="121.8" r="1.75"/><circle cx="277.8" cy="123.5" r="1.75"/><circle cx="277.8" cy="125.2" r="1.75"/><circle cx="277.8" cy="129.2" r="1.75"/><circle cx="277.8" cy="130.9" r="1.75"/><circle cx="277.8" cy="132.6" r="1.75"/><circle cx="277.8" cy="134.3" r="1.75"/><circle cx="277.8" cy="139.9" r="1.75"/><circle cx="277.8" cy="141.6" r="1.75"/><circle cx="277.8" cy="146.2" r="1.75"/><circle cx="277.8" cy="147.9" r="1.75"/><circle cx="277.8" cy="157.5" r="1.75"/><circle cx="277.8" cy="159.2" r="1.75"/><circle cx="277.8" cy="160.9" r="1.75"/><circle cx="277.8" cy="162.6" r="1.75"/><circle cx="277.8" cy="164.3" r="1.75"/><circle cx="281.8" cy="111.0" r="1.75"/><circle cx="281.8" cy="118.4" r="1.75"/><circle cx="281.8" cy="126.3" r="1.75"/><circle cx="281.8" cy="132.0" r="1.75"/><circle cx="281.8" cy="142.8" r="1.75"/><circle cx="281.8" cy="144.5" r="1.75"/><circle cx="281.8" cy="146.2" r="1.75"/><circle cx="281.8" cy="147.9" r="1.75"/><circle cx="281.8" cy="153.5" r="1.75"/><circle cx="281.8" cy="155.2" r="1.75"/><circle cx="281.8" cy="156.9" r="1.75"/><circle cx="281.8" cy="158.6" r="1.75"/><circle cx="281.8" cy="164.3" r="1.75"/><circle cx="285.9" cy="112.7" r="1.75"/><circle cx="285.9" cy="114.4" r="1.75"/><circle cx="285.9" cy="116.1" r="1.75"/><circle cx="285.9" cy="119.5" r="1.75"/><circle cx="285.9" cy="121.2" r="1.75"/><circle cx="285.9" cy="122.9" r="1.75"/><circle cx="285.9" cy="130.3" r="1.75"/><circle cx="285.9" cy="132.0" r="1.75"/><circle cx="285.9" cy="142.8" r="1.75"/><circle cx="285.9" cy="144.5" r="1.75"/><circle cx="285.9" cy="146.2" r="1.75"/><circle cx="285.9" cy="147.9" r="1.75"/><circle cx="285.9" cy="149.6" r="1.75"/><circle cx="285.9" cy="151.3" r="1.75"/><circle cx="285.9" cy="153.0" r="1.75"/><circle cx="285.9" cy="154.7" r="1.75"/><circle cx="285.9" cy="156.4" r="1.75"/><circle cx="290.0" cy="111.6" r="1.75"/><circle cx="290.0" cy="122.3" r="1.75"/><circle cx="290.0" cy="124.0" r="1.75"/><circle cx="290.0" cy="125.7" r="1.75"/><circle cx="290.0" cy="137.3" r="1.75"/><circle cx="290.0" cy="142.2" r="1.75"/><circle cx="290.0" cy="143.9" r="1.75"/><circle cx="290.0" cy="149.6" r="1.75"/><circle cx="290.0" cy="151.3" r="1.75"/><circle cx="290.0" cy="153.0" r="1.75"/><circle cx="290.0" cy="154.7" r="1.75"/><circle cx="290.0" cy="158.1" r="1.75"/><circle cx="290.0" cy="159.8" r="1.75"/><circle cx="290.0" cy="161.5" r="1.75"/><circle cx="290.0" cy="163.2" r="1.75"/><circle cx="294.1" cy="112.1" r="1.75"/><circle cx="294.1" cy="113.8" r="1.75"/><circle cx="294.1" cy="115.5" r="1.75"/><circle cx="294.1" cy="133.1" r="1.75"/><circle cx="294.1" cy="139.4" r="1.75"/><circle cx="294.1" cy="141.1" r="1.75"/><circle cx="294.1" cy="149.6" r="1.75"/><circle cx="294.1" cy="156.9" r="1.75"/><circle cx="294.1" cy="160.9" r="1.75"/><circle cx="298.1" cy="112.1" r="1.75"/><circle cx="298.1" cy="113.8" r="1.75"/><circle cx="298.1" cy="115.5" r="1.75"/><circle cx="298.1" cy="117.2" r="1.75"/><circle cx="298.1" cy="118.9" r="1.75"/><circle cx="298.1" cy="120.6" r="1.75"/><circle cx="298.1" cy="122.3" r="1.75"/><circle cx="298.1" cy="126.3" r="1.75"/><circle cx="298.1" cy="134.3" r="1.75"/><circle cx="298.1" cy="136.0" r="1.75"/><circle cx="298.1" cy="137.7" r="1.75"/><circle cx="298.1" cy="147.3" r="1.75"/><circle cx="298.1" cy="149.0" r="1.75"/><circle cx="298.1" cy="150.7" r="1.75"/><circle cx="298.1" cy="152.4" r="1.75"/><circle cx="298.1" cy="154.1" r="1.75"/><circle cx="298.1" cy="162.6" r="1.75"/><circle cx="298.1" cy="164.3" r="1.75"/><circle cx="302.2" cy="111.6" r="1.75"/><circle cx="302.2" cy="115.5" r="1.75"/><circle cx="302.2" cy="119.5" r="1.75"/><circle cx="302.2" cy="125.2" r="1.75"/><circle cx="302.2" cy="159.8" r="1.75"/><circle cx="306.3" cy="136.0" r="1.75"/><circle cx="306.3" cy="144.5" r="1.75"/><circle cx="306.3" cy="153.5" r="1.75"/><circle cx="306.3" cy="158.6" r="1.75"/><circle cx="310.4" cy="113.3" r="1.75"/><circle cx="310.4" cy="129.7" r="1.75"/><circle cx="310.4" cy="136.9" r="1.75"/><circle cx="310.4" cy="138.8" r="1.75"/><circle cx="314.4" cy="150.1" r="1.75"/><circle cx="314.4" cy="151.8" r="1.75"/><circle cx="318.5" cy="133.7" r="1.75"/><circle cx="326.7" cy="113.0" r="1.75"/><circle cx="326.7" cy="117.2" r="1.75"/><circle cx="334.8" cy="115.3" r="1.75"/><circle cx="343.0" cy="113.0" r="1.75"/><circle cx="322.6" cy="131.6" r="1.75"/><circle cx="322.6" cy="152.7" r="1.75"/><circle cx="269.6" cy="166.5" r="1.75"/><circle cx="269.6" cy="170.2" r="1.75"/><circle cx="269.6" cy="188.1" r="1.75"/><circle cx="273.7" cy="166.5" r="1.75"/><circle cx="273.7" cy="172.0" r="1.75"/><circle cx="273.7" cy="177.9" r="1.75"/><circle cx="273.7" cy="179.6" r="1.75"/><circle cx="273.7" cy="181.3" r="1.75"/><circle cx="273.7" cy="183.3" r="1.75"/><circle cx="273.7" cy="187.9" r="1.75"/><circle cx="277.8" cy="165.4" r="1.75"/><circle cx="277.8" cy="170.5" r="1.75"/><circle cx="277.8" cy="172.0" r="1.75"/><circle cx="277.8" cy="173.3" r="1.75"/><circle cx="277.8" cy="177.9" r="1.75"/><circle cx="277.8" cy="179.6" r="1.75"/><circle cx="277.8" cy="181.3" r="1.75"/><circle cx="277.8" cy="188.7" r="1.75"/><circle cx="281.8" cy="181.9" r="1.75"/><circle cx="285.9" cy="168.2" r="1.75"/><circle cx="285.9" cy="175.6" r="1.75"/><circle cx="285.9" cy="177.3" r="1.75"/><circle cx="285.9" cy="182.4" r="1.75"/><circle cx="285.9" cy="188.3" r="1.75"/><circle cx="290.0" cy="171.1" r="1.75"/><circle cx="290.0" cy="181.3" r="1.75"/><circle cx="290.0" cy="183.0" r="1.75"/><circle cx="290.0" cy="188.3" r="1.75"/><circle cx="290.0" cy="189.8" r="1.75"/><circle cx="290.0" cy="191.5" r="1.75"/><circle cx="294.1" cy="171.1" r="1.75"/><circle cx="294.1" cy="172.8" r="1.75"/><circle cx="294.1" cy="174.7" r="1.75"/><circle cx="294.1" cy="176.2" r="1.75"/><circle cx="294.1" cy="180.2" r="1.75"/><circle cx="294.1" cy="191.5" r="1.75"/><circle cx="294.1" cy="193.2" r="1.75"/><circle cx="298.1" cy="182.2" r="1.75"/><circle cx="302.2" cy="179.2" r="1.75"/><circle cx="306.3" cy="178.4" r="1.75"/><circle cx="314.4" cy="187.2" r="1.75"/></g>
<line x1="108.3" y1="429.0" x2="108.3" y2="425.5" stroke="#ddd" stroke-width="0.8"/>
<line x1="108.3" y1="225.5" x2="108.3" y2="229.0" stroke="#ddd" stroke-width="0.8"/>
<line x1="176.2" y1="429.0" x2="176.2" y2="425.5" stroke="#ddd" stroke-width="0.8"/>
<line x1="176.2" y1="225.5" x2="176.2" y2="229.0" stroke="#ddd" stroke-width="0.8"/>
<line x1="40.5" y1="276.4" x2="44.0" y2="276.4" stroke="#ddd" stroke-width="0.8"/>
<line x1="244.0" y1="276.4" x2="240.5" y2="276.4" stroke="#ddd" stroke-width="0.8"/>
<line x1="40.5" y1="327.2" x2="44.0" y2="327.2" stroke="#ddd" stroke-width="0.8"/>
<line x1="244.0" y1="327.2" x2="240.5" y2="327.2" stroke="#ddd" stroke-width="0.8"/>
<line x1="40.5" y1="378.1" x2="44.0" y2="378.1" stroke="#ddd" stroke-width="0.8"/>
<line x1="244.0" y1="378.1" x2="240.5" y2="378.1" stroke="#ddd" stroke-width="0.8"/>
<path d="M40.5 225.0V429.5M40.0 429.0H244.5M244.0 429.5V225.0M244.5 225.5H40.0" stroke="#404040" stroke-width="1.05" fill="none"/>
<line x1="40.3" y1="351.1" x2="216.7" y2="225.2" stroke="#0000cc" stroke-width="2.3"/>
<g fill="#000"><circle cx="137.4" cy="229.6" r="1.75"/><circle cx="128.7" cy="232.8" r="1.75"/><circle cx="118.8" cy="233.9" r="1.75"/><circle cx="115.6" cy="236.1" r="1.75"/><circle cx="129.8" cy="237.2" r="1.75"/><circle cx="134.1" cy="236.5" r="1.75"/><circle cx="77.3" cy="236.5" r="1.75"/><circle cx="77.3" cy="239.4" r="1.75"/><circle cx="57.2" cy="238.7" r="1.75"/><circle cx="90.4" cy="237.9" r="1.75"/><circle cx="110.1" cy="239.4" r="1.75"/><circle cx="109.0" cy="242.2" r="1.75"/><circle cx="95.9" cy="241.6" r="1.75"/><circle cx="129.3" cy="239.4" r="1.75"/><circle cx="135.2" cy="242.2" r="1.75"/><circle cx="139.6" cy="242.2" r="1.75"/><circle cx="128.7" cy="243.8" r="1.75"/><circle cx="42.8" cy="244.2" r="1.75"/><circle cx="55.0" cy="243.3" r="1.75"/><circle cx="70.3" cy="245.5" r="1.75"/><circle cx="83.4" cy="245.9" r="1.75"/><circle cx="95.9" cy="245.9" r="1.75"/><circle cx="103.1" cy="247.5" r="1.75"/><circle cx="109.0" cy="248.6" r="1.75"/><circle cx="112.3" cy="245.9" r="1.75"/><circle cx="122.1" cy="244.8" r="1.75"/><circle cx="123.2" cy="247.5" r="1.75"/><circle cx="126.5" cy="245.9" r="1.75"/><circle cx="121.0" cy="246.6" r="1.75"/><circle cx="70.3" cy="253.2" r="1.75"/><circle cx="75.6" cy="256.2" r="1.75"/><circle cx="53.3" cy="263.0" r="1.75"/><circle cx="50.0" cy="264.5" r="1.75"/><circle cx="78.4" cy="264.5" r="1.75"/><circle cx="47.2" cy="273.7" r="1.75"/><circle cx="52.9" cy="271.1" r="1.75"/><circle cx="90.0" cy="271.1" r="1.75"/><circle cx="99.6" cy="267.8" r="1.75"/><circle cx="103.5" cy="271.1" r="1.75"/><circle cx="115.6" cy="266.7" r="1.75"/><circle cx="130.9" cy="268.2" r="1.75"/><circle cx="131.9" cy="272.2" r="1.75"/><circle cx="128.7" cy="271.1" r="1.75"/><circle cx="123.2" cy="272.8" r="1.75"/><circle cx="140.7" cy="266.7" r="1.75"/><circle cx="140.7" cy="272.2" r="1.75"/><circle cx="61.6" cy="277.6" r="1.75"/><circle cx="66.4" cy="277.2" r="1.75"/><circle cx="80.2" cy="275.4" r="1.75"/><circle cx="86.5" cy="276.1" r="1.75"/><circle cx="90.0" cy="275.4" r="1.75"/><circle cx="92.2" cy="277.2" r="1.75"/><circle cx="103.1" cy="277.6" r="1.75"/><circle cx="116.2" cy="277.2" r="1.75"/><circle cx="122.8" cy="277.6" r="1.75"/><circle cx="127.6" cy="276.5" r="1.75"/><circle cx="134.1" cy="277.6" r="1.75"/><circle cx="140.3" cy="277.2" r="1.75"/><circle cx="43.5" cy="281.6" r="1.75"/><circle cx="48.5" cy="281.6" r="1.75"/><circle cx="58.1" cy="281.6" r="1.75"/><circle cx="93.1" cy="283.1" r="1.75"/><circle cx="106.2" cy="283.7" r="1.75"/><circle cx="113.4" cy="282.0" r="1.75"/><circle cx="118.8" cy="280.9" r="1.75"/><circle cx="125.4" cy="283.1" r="1.75"/><circle cx="130.9" cy="280.9" r="1.75"/><circle cx="137.4" cy="280.9" r="1.75"/><circle cx="85.0" cy="285.7" r="1.75"/><circle cx="90.4" cy="286.8" r="1.75"/><circle cx="90.0" cy="288.5" r="1.75"/><circle cx="95.2" cy="286.8" r="1.75"/><circle cx="121.5" cy="285.3" r="1.75"/><circle cx="122.1" cy="286.4" r="1.75"/><circle cx="133.0" cy="286.4" r="1.75"/><circle cx="131.9" cy="288.5" r="1.75"/><circle cx="134.1" cy="287.5" r="1.75"/><circle cx="46.7" cy="287.9" r="1.75"/><circle cx="44.1" cy="291.4" r="1.75"/><circle cx="55.9" cy="293.6" r="1.75"/><circle cx="58.8" cy="297.3" r="1.75"/><circle cx="92.2" cy="298.4" r="1.75"/><circle cx="119.9" cy="298.4" r="1.75"/><circle cx="48.9" cy="301.2" r="1.75"/><circle cx="69.7" cy="302.7" r="1.75"/><circle cx="70.3" cy="305.4" r="1.75"/><circle cx="99.8" cy="304.9" r="1.75"/><circle cx="58.1" cy="306.7" r="1.75"/><circle cx="59.8" cy="310.0" r="1.75"/><circle cx="62.0" cy="308.2" r="1.75"/><circle cx="80.2" cy="308.2" r="1.75"/><circle cx="92.2" cy="306.7" r="1.75"/><circle cx="50.0" cy="310.0" r="1.75"/><circle cx="46.3" cy="313.0" r="1.75"/><circle cx="52.9" cy="318.0" r="1.75"/><circle cx="46.3" cy="320.2" r="1.75"/><circle cx="78.4" cy="317.4" r="1.75"/><circle cx="58.8" cy="321.8" r="1.75"/><circle cx="60.9" cy="323.5" r="1.75"/><circle cx="66.0" cy="322.4" r="1.75"/><circle cx="63.8" cy="325.3" r="1.75"/><circle cx="50.0" cy="325.7" r="1.75"/><circle cx="42.4" cy="325.7" r="1.75"/><circle cx="145.3" cy="233.3" r="1.75"/><circle cx="146.8" cy="238.7" r="1.75"/><circle cx="147.5" cy="240.9" r="1.75"/><circle cx="149.6" cy="242.2" r="1.75"/><circle cx="151.8" cy="241.6" r="1.75"/><circle cx="155.5" cy="237.2" r="1.75"/><circle cx="163.8" cy="237.9" r="1.75"/><circle cx="181.3" cy="236.5" r="1.75"/><circle cx="199.9" cy="241.6" r="1.75"/><circle cx="174.3" cy="245.9" r="1.75"/><circle cx="175.2" cy="256.2" r="1.75"/><circle cx="149.6" cy="259.7" r="1.75"/><circle cx="149.6" cy="264.1" r="1.75"/><circle cx="158.4" cy="264.1" r="1.75"/><circle cx="157.7" cy="266.3" r="1.75"/><circle cx="156.9" cy="268.4" r="1.75"/><circle cx="183.9" cy="261.7" r="1.75"/><circle cx="146.4" cy="270.0" r="1.75"/><circle cx="143.1" cy="272.8" r="1.75"/><circle cx="154.7" cy="270.6" r="1.75"/><circle cx="167.1" cy="270.0" r="1.75"/><circle cx="168.7" cy="272.2" r="1.75"/><circle cx="172.2" cy="269.3" r="1.75"/><circle cx="194.4" cy="269.3" r="1.75"/><circle cx="194.4" cy="274.3" r="1.75"/><circle cx="220.2" cy="268.4" r="1.75"/><circle cx="148.1" cy="279.4" r="1.75"/><circle cx="148.6" cy="280.9" r="1.75"/><circle cx="144.2" cy="278.7" r="1.75"/><circle cx="143.1" cy="281.6" r="1.75"/><circle cx="160.6" cy="280.5" r="1.75"/><circle cx="184.6" cy="282.0" r="1.75"/><circle cx="196.6" cy="282.4" r="1.75"/><circle cx="143.7" cy="284.6" r="1.75"/><circle cx="151.8" cy="285.3" r="1.75"/><circle cx="145.3" cy="288.1" r="1.75"/><circle cx="144.2" cy="292.5" r="1.75"/><circle cx="42.4" cy="331.8" r="1.75"/><circle cx="44.6" cy="328.7" r="1.75"/><circle cx="81.7" cy="329.6" r="1.75"/><circle cx="98.7" cy="330.3" r="1.75"/><circle cx="116.2" cy="331.4" r="1.75"/><circle cx="112.3" cy="333.1" r="1.75"/><circle cx="108.4" cy="335.3" r="1.75"/><circle cx="128.7" cy="333.6" r="1.75"/><circle cx="47.8" cy="335.3" r="1.75"/><circle cx="50.0" cy="336.8" r="1.75"/><circle cx="59.8" cy="333.6" r="1.75"/><circle cx="59.8" cy="335.3" r="1.75"/><circle cx="71.9" cy="333.1" r="1.75"/><circle cx="76.2" cy="336.2" r="1.75"/><circle cx="74.1" cy="339.0" r="1.75"/><circle cx="92.6" cy="335.3" r="1.75"/><circle cx="93.7" cy="336.8" r="1.75"/><circle cx="85.6" cy="340.1" r="1.75"/><circle cx="40.2" cy="340.1" r="1.75"/><circle cx="101.4" cy="341.9" r="1.75"/><circle cx="101.8" cy="344.0" r="1.75"/><circle cx="66.0" cy="347.1" r="1.75"/><circle cx="111.8" cy="349.3" r="1.75"/><circle cx="114.0" cy="350.6" r="1.75"/><circle cx="41.9" cy="352.1" r="1.75"/><circle cx="56.6" cy="355.0" r="1.75"/><circle cx="68.6" cy="353.7" r="1.75"/><circle cx="78.4" cy="352.8" r="1.75"/><circle cx="91.5" cy="355.8" r="1.75"/><circle cx="94.8" cy="355.0" r="1.75"/><circle cx="96.6" cy="353.7" r="1.75"/><circle cx="40.6" cy="359.3" r="1.75"/><circle cx="43.5" cy="360.2" r="1.75"/><circle cx="50.7" cy="360.2" r="1.75"/><circle cx="53.7" cy="360.9" r="1.75"/><circle cx="48.9" cy="363.1" r="1.75"/><circle cx="57.2" cy="363.1" r="1.75"/><circle cx="70.3" cy="361.5" r="1.75"/><circle cx="73.4" cy="359.8" r="1.75"/><circle cx="75.6" cy="362.4" r="1.75"/><circle cx="66.4" cy="364.6" r="1.75"/><circle cx="108.4" cy="360.2" r="1.75"/><circle cx="55.5" cy="366.3" r="1.75"/><circle cx="54.4" cy="369.6" r="1.75"/><circle cx="52.2" cy="371.8" r="1.75"/><circle cx="50.0" cy="372.9" r="1.75"/><circle cx="81.7" cy="370.3" r="1.75"/><circle cx="91.5" cy="368.5" r="1.75"/><circle cx="60.5" cy="374.0" r="1.75"/><circle cx="66.0" cy="374.6" r="1.75"/><circle cx="93.1" cy="374.0" r="1.75"/><circle cx="81.7" cy="375.5" r="1.75"/><circle cx="103.1" cy="375.5" r="1.75"/><circle cx="76.2" cy="379.0" r="1.75"/><circle cx="93.1" cy="380.5" r="1.75"/><circle cx="96.6" cy="382.7" r="1.75"/><circle cx="81.7" cy="384.2" r="1.75"/><circle cx="78.4" cy="386.4" r="1.75"/><circle cx="43.5" cy="384.9" r="1.75"/><circle cx="55.0" cy="391.5" r="1.75"/><circle cx="66.8" cy="390.8" r="1.75"/><circle cx="73.0" cy="391.9" r="1.75"/><circle cx="90.9" cy="392.1" r="1.75"/><circle cx="66.0" cy="395.2" r="1.75"/><circle cx="48.9" cy="396.5" r="1.75"/><circle cx="52.2" cy="396.9" r="1.75"/><circle cx="53.3" cy="398.7" r="1.75"/><circle cx="68.6" cy="398.7" r="1.75"/><circle cx="83.4" cy="398.0" r="1.75"/><circle cx="131.9" cy="398.0" r="1.75"/><circle cx="44.1" cy="401.3" r="1.75"/><circle cx="46.7" cy="402.4" r="1.75"/><circle cx="45.0" cy="403.5" r="1.75"/><circle cx="54.4" cy="401.7" r="1.75"/><circle cx="58.1" cy="402.4" r="1.75"/><circle cx="55.0" cy="403.5" r="1.75"/><circle cx="88.3" cy="401.3" r="1.75"/><circle cx="93.7" cy="402.4" r="1.75"/><circle cx="106.2" cy="401.7" r="1.75"/><circle cx="58.8" cy="408.3" r="1.75"/><circle cx="63.8" cy="407.8" r="1.75"/><circle cx="59.8" cy="411.1" r="1.75"/><circle cx="78.4" cy="408.9" r="1.75"/><circle cx="79.9" cy="407.8" r="1.75"/><circle cx="91.5" cy="408.3" r="1.75"/><circle cx="103.1" cy="408.3" r="1.75"/><circle cx="111.8" cy="408.5" r="1.75"/><circle cx="41.9" cy="414.0" r="1.75"/><circle cx="164.5" cy="340.5" r="1.75"/><circle cx="144.2" cy="368.1" r="1.75"/><circle cx="144.6" cy="379.0" r="1.75"/></g>
<line x1="310.5" y1="429.0" x2="310.5" y2="425.5" stroke="#ddd" stroke-width="0.8"/>
<line x1="310.5" y1="225.5" x2="310.5" y2="229.0" stroke="#ddd" stroke-width="0.8"/>
<line x1="351.2" y1="429.0" x2="351.2" y2="425.5" stroke="#ddd" stroke-width="0.8"/>
<line x1="351.2" y1="225.5" x2="351.2" y2="229.0" stroke="#ddd" stroke-width="0.8"/>
<line x1="392.0" y1="429.0" x2="392.0" y2="425.5" stroke="#ddd" stroke-width="0.8"/>
<line x1="392.0" y1="225.5" x2="392.0" y2="229.0" stroke="#ddd" stroke-width="0.8"/>
<line x1="432.7" y1="429.0" x2="432.7" y2="425.5" stroke="#ddd" stroke-width="0.8"/>
<line x1="432.7" y1="225.5" x2="432.7" y2="229.0" stroke="#ddd" stroke-width="0.8"/>
<line x1="269.7" y1="276.4" x2="273.2" y2="276.4" stroke="#ddd" stroke-width="0.8"/>
<line x1="473.5" y1="276.4" x2="470.0" y2="276.4" stroke="#ddd" stroke-width="0.8"/>
<line x1="269.7" y1="327.2" x2="273.2" y2="327.2" stroke="#ddd" stroke-width="0.8"/>
<line x1="473.5" y1="327.2" x2="470.0" y2="327.2" stroke="#ddd" stroke-width="0.8"/>
<line x1="269.7" y1="378.1" x2="273.2" y2="378.1" stroke="#ddd" stroke-width="0.8"/>
<line x1="473.5" y1="378.1" x2="470.0" y2="378.1" stroke="#ddd" stroke-width="0.8"/>
<path d="M269.7 225.0V429.5M269.2 429.0H474.0M473.5 429.5V225.0M474.0 225.5H269.2" stroke="#404040" stroke-width="1.05" fill="none"/>
<line x1="269.6" y1="335.8" x2="388.0" y2="229.7" stroke="#dd0000" stroke-width="2.3"/>
<g fill="#000"><circle cx="269.6" cy="237.2" r="1.75"/><circle cx="269.6" cy="246.3" r="1.75"/><circle cx="269.6" cy="271.6" r="1.75"/><circle cx="273.7" cy="247.1" r="1.75"/><circle cx="273.7" cy="255.9" r="1.75"/><circle cx="273.7" cy="269.7" r="1.75"/><circle cx="277.8" cy="245.5" r="1.75"/><circle cx="277.8" cy="247.1" r="1.75"/><circle cx="277.8" cy="248.5" r="1.75"/><circle cx="277.8" cy="253.4" r="1.75"/><circle cx="277.8" cy="272.3" r="1.75"/><circle cx="281.8" cy="237.7" r="1.75"/><circle cx="281.8" cy="242.3" r="1.75"/><circle cx="281.8" cy="263.6" r="1.75"/><circle cx="281.8" cy="265.9" r="1.75"/><circle cx="281.8" cy="268.2" r="1.75"/><circle cx="281.8" cy="270.4" r="1.75"/><circle cx="281.8" cy="272.3" r="1.75"/><circle cx="281.8" cy="276.1" r="1.75"/><circle cx="285.9" cy="238.7" r="1.75"/><circle cx="285.9" cy="240.6" r="1.75"/><circle cx="285.9" cy="242.5" r="1.75"/><circle cx="285.9" cy="246.3" r="1.75"/><circle cx="285.9" cy="261.3" r="1.75"/><circle cx="285.9" cy="263.3" r="1.75"/><circle cx="285.9" cy="270.4" r="1.75"/><circle cx="290.0" cy="246.6" r="1.75"/><circle cx="290.0" cy="276.3" r="1.75"/><circle cx="294.1" cy="259.9" r="1.75"/><circle cx="294.1" cy="269.5" r="1.75"/><circle cx="294.1" cy="271.2" r="1.75"/><circle cx="294.1" cy="272.9" r="1.75"/><circle cx="294.1" cy="274.6" r="1.75"/><circle cx="294.1" cy="276.3" r="1.75"/><circle cx="298.1" cy="241.4" r="1.75"/><circle cx="298.1" cy="243.2" r="1.75"/><circle cx="298.1" cy="244.8" r="1.75"/><circle cx="298.1" cy="247.7" r="1.75"/><circle cx="298.1" cy="266.1" r="1.75"/><circle cx="302.2" cy="241.7" r="1.75"/><circle cx="302.2" cy="243.2" r="1.75"/><circle cx="302.2" cy="269.3" r="1.75"/><circle cx="302.2" cy="272.9" r="1.75"/><circle cx="302.2" cy="275.2" r="1.75"/><circle cx="306.3" cy="239.8" r="1.75"/><circle cx="306.3" cy="241.4" r="1.75"/><circle cx="306.3" cy="242.9" r="1.75"/><circle cx="306.3" cy="267.8" r="1.75"/><circle cx="306.3" cy="269.5" r="1.75"/><circle cx="306.3" cy="271.2" r="1.75"/><circle cx="306.3" cy="273.5" r="1.75"/><circle cx="310.4" cy="256.1" r="1.75"/><circle cx="310.4" cy="266.3" r="1.75"/><circle cx="310.4" cy="267.8" r="1.75"/><circle cx="310.4" cy="269.5" r="1.75"/><circle cx="310.4" cy="271.2" r="1.75"/><circle cx="314.4" cy="238.9" r="1.75"/><circle cx="314.4" cy="244.8" r="1.75"/><circle cx="314.4" cy="275.0" r="1.75"/><circle cx="318.5" cy="240.9" r="1.75"/><circle cx="318.5" cy="276.3" r="1.75"/><circle cx="322.6" cy="235.7" r="1.75"/><circle cx="322.6" cy="266.7" r="1.75"/><circle cx="322.6" cy="268.9" r="1.75"/><circle cx="322.6" cy="271.2" r="1.75"/><circle cx="322.6" cy="273.5" r="1.75"/><circle cx="322.6" cy="275.8" r="1.75"/><circle cx="326.7" cy="242.5" r="1.75"/><circle cx="330.7" cy="238.9" r="1.75"/><circle cx="330.7" cy="272.3" r="1.75"/><circle cx="334.8" cy="233.2" r="1.75"/><circle cx="334.8" cy="234.9" r="1.75"/><circle cx="334.8" cy="237.2" r="1.75"/><circle cx="334.8" cy="239.8" r="1.75"/><circle cx="334.8" cy="274.6" r="1.75"/><circle cx="338.9" cy="237.2" r="1.75"/><circle cx="338.9" cy="238.3" r="1.75"/><circle cx="338.9" cy="239.8" r="1.75"/><circle cx="343.0" cy="236.6" r="1.75"/><circle cx="343.0" cy="273.5" r="1.75"/><circle cx="347.0" cy="262.9" r="1.75"/><circle cx="351.1" cy="236.4" r="1.75"/><circle cx="355.2" cy="243.4" r="1.75"/><circle cx="359.3" cy="233.4" r="1.75"/><circle cx="359.3" cy="237.7" r="1.75"/><circle cx="359.3" cy="244.3" r="1.75"/><circle cx="371.5" cy="230.0" r="1.75"/><circle cx="375.6" cy="264.7" r="1.75"/><circle cx="269.6" cy="278.7" r="1.75"/><circle cx="269.6" cy="282.9" r="1.75"/><circle cx="269.6" cy="329.4" r="1.75"/><circle cx="273.7" cy="280.4" r="1.75"/><circle cx="273.7" cy="282.7" r="1.75"/><circle cx="273.7" cy="284.4" r="1.75"/><circle cx="273.7" cy="286.3" r="1.75"/><circle cx="273.7" cy="307.1" r="1.75"/><circle cx="273.7" cy="323.5" r="1.75"/><circle cx="273.7" cy="329.8" r="1.75"/><circle cx="277.8" cy="308.2" r="1.75"/><circle cx="281.8" cy="281.0" r="1.75"/><circle cx="281.8" cy="282.7" r="1.75"/><circle cx="281.8" cy="293.8" r="1.75"/><circle cx="281.8" cy="301.4" r="1.75"/><circle cx="281.8" cy="308.2" r="1.75"/><circle cx="281.8" cy="322.4" r="1.75"/><circle cx="285.9" cy="279.8" r="1.75"/><circle cx="285.9" cy="282.1" r="1.75"/><circle cx="285.9" cy="284.0" r="1.75"/><circle cx="285.9" cy="285.8" r="1.75"/><circle cx="285.9" cy="291.5" r="1.75"/><circle cx="285.9" cy="304.8" r="1.75"/><circle cx="285.9" cy="309.9" r="1.75"/><circle cx="285.9" cy="313.1" r="1.75"/><circle cx="290.0" cy="278.7" r="1.75"/><circle cx="290.0" cy="280.4" r="1.75"/><circle cx="290.0" cy="282.4" r="1.75"/><circle cx="290.0" cy="287.2" r="1.75"/><circle cx="290.0" cy="304.8" r="1.75"/><circle cx="290.0" cy="325.6" r="1.75"/><circle cx="294.1" cy="278.7" r="1.75"/><circle cx="294.1" cy="280.4" r="1.75"/><circle cx="294.1" cy="284.7" r="1.75"/><circle cx="294.1" cy="320.1" r="1.75"/><circle cx="298.1" cy="281.5" r="1.75"/><circle cx="298.1" cy="289.3" r="1.75"/><circle cx="298.1" cy="317.3" r="1.75"/><circle cx="302.2" cy="278.7" r="1.75"/><circle cx="302.2" cy="281.5" r="1.75"/><circle cx="302.2" cy="282.4" r="1.75"/><circle cx="302.2" cy="287.2" r="1.75"/><circle cx="302.2" cy="292.3" r="1.75"/><circle cx="306.3" cy="278.7" r="1.75"/><circle cx="306.3" cy="282.4" r="1.75"/><circle cx="306.3" cy="285.8" r="1.75"/><circle cx="306.3" cy="288.3" r="1.75"/><circle cx="306.3" cy="307.1" r="1.75"/><circle cx="310.4" cy="288.3" r="1.75"/><circle cx="310.4" cy="298.3" r="1.75"/><circle cx="314.4" cy="286.3" r="1.75"/><circle cx="314.4" cy="309.9" r="1.75"/><circle cx="314.4" cy="328.1" r="1.75"/><circle cx="318.5" cy="281.5" r="1.75"/><circle cx="318.5" cy="285.5" r="1.75"/><circle cx="318.5" cy="321.8" r="1.75"/><circle cx="318.5" cy="326.7" r="1.75"/><circle cx="322.6" cy="298.0" r="1.75"/><circle cx="322.6" cy="318.1" r="1.75"/><circle cx="326.7" cy="287.8" r="1.75"/><circle cx="326.7" cy="302.5" r="1.75"/><circle cx="334.8" cy="279.3" r="1.75"/><circle cx="334.8" cy="326.7" r="1.75"/><circle cx="343.0" cy="278.7" r="1.75"/><circle cx="371.5" cy="297.4" r="1.75"/><circle cx="269.6" cy="355.1" r="1.75"/><circle cx="269.6" cy="360.3" r="1.75"/><circle cx="273.7" cy="332.7" r="1.75"/><circle cx="273.7" cy="334.2" r="1.75"/><circle cx="273.7" cy="342.1" r="1.75"/><circle cx="273.7" cy="361.9" r="1.75"/><circle cx="273.7" cy="363.9" r="1.75"/><circle cx="277.8" cy="336.7" r="1.75"/><circle cx="277.8" cy="340.3" r="1.75"/><circle cx="277.8" cy="344.4" r="1.75"/><circle cx="277.8" cy="348.9" r="1.75"/><circle cx="277.8" cy="350.9" r="1.75"/><circle cx="277.8" cy="352.8" r="1.75"/><circle cx="277.8" cy="354.3" r="1.75"/><circle cx="277.8" cy="359.9" r="1.75"/><circle cx="277.8" cy="367.1" r="1.75"/><circle cx="277.8" cy="382.3" r="1.75"/><circle cx="281.8" cy="331.6" r="1.75"/><circle cx="281.8" cy="359.6" r="1.75"/><circle cx="281.8" cy="361.4" r="1.75"/><circle cx="281.8" cy="368.7" r="1.75"/><circle cx="281.8" cy="375.2" r="1.75"/><circle cx="281.8" cy="378.9" r="1.75"/><circle cx="281.8" cy="383.8" r="1.75"/><circle cx="285.9" cy="334.4" r="1.75"/><circle cx="285.9" cy="336.1" r="1.75"/><circle cx="285.9" cy="339.5" r="1.75"/><circle cx="285.9" cy="350.1" r="1.75"/><circle cx="285.9" cy="352.6" r="1.75"/><circle cx="285.9" cy="371.6" r="1.75"/><circle cx="285.9" cy="375.8" r="1.75"/><circle cx="290.0" cy="362.2" r="1.75"/><circle cx="290.0" cy="363.9" r="1.75"/><circle cx="290.0" cy="371.6" r="1.75"/><circle cx="290.0" cy="374.3" r="1.75"/><circle cx="290.0" cy="380.9" r="1.75"/><circle cx="294.1" cy="333.0" r="1.75"/><circle cx="294.1" cy="335.0" r="1.75"/><circle cx="294.1" cy="353.1" r="1.75"/><circle cx="294.1" cy="361.4" r="1.75"/><circle cx="298.1" cy="332.7" r="1.75"/><circle cx="298.1" cy="336.1" r="1.75"/><circle cx="298.1" cy="338.0" r="1.75"/><circle cx="298.1" cy="339.2" r="1.75"/><circle cx="298.1" cy="346.9" r="1.75"/><circle cx="298.1" cy="355.1" r="1.75"/><circle cx="298.1" cy="367.9" r="1.75"/><circle cx="298.1" cy="370.1" r="1.75"/><circle cx="298.1" cy="374.3" r="1.75"/><circle cx="302.2" cy="332.1" r="1.75"/><circle cx="302.2" cy="339.8" r="1.75"/><circle cx="306.3" cy="356.0" r="1.75"/><circle cx="306.3" cy="364.8" r="1.75"/><circle cx="306.3" cy="373.9" r="1.75"/><circle cx="306.3" cy="379.2" r="1.75"/><circle cx="310.4" cy="358.8" r="1.75"/><circle cx="314.4" cy="370.5" r="1.75"/><circle cx="326.7" cy="333.0" r="1.75"/><circle cx="334.8" cy="335.3" r="1.75"/><circle cx="343.0" cy="333.0" r="1.75"/><circle cx="322.6" cy="372.7" r="1.75"/><circle cx="269.6" cy="387.0" r="1.75"/><circle cx="269.6" cy="408.3" r="1.75"/><circle cx="273.7" cy="392.0" r="1.75"/><circle cx="273.7" cy="398.4" r="1.75"/><circle cx="273.7" cy="400.0" r="1.75"/><circle cx="273.7" cy="401.8" r="1.75"/><circle cx="273.7" cy="403.4" r="1.75"/><circle cx="273.7" cy="408.3" r="1.75"/><circle cx="277.8" cy="398.8" r="1.75"/><circle cx="277.8" cy="401.8" r="1.75"/><circle cx="277.8" cy="408.6" r="1.75"/><circle cx="281.8" cy="402.0" r="1.75"/><circle cx="285.9" cy="396.1" r="1.75"/><circle cx="285.9" cy="397.7" r="1.75"/><circle cx="285.9" cy="402.6" r="1.75"/><circle cx="285.9" cy="408.6" r="1.75"/><circle cx="290.0" cy="391.2" r="1.75"/><circle cx="290.0" cy="400.9" r="1.75"/><circle cx="290.0" cy="402.6" r="1.75"/><circle cx="290.0" cy="408.3" r="1.75"/><circle cx="290.0" cy="410.0" r="1.75"/><circle cx="290.0" cy="411.7" r="1.75"/><circle cx="294.1" cy="391.2" r="1.75"/><circle cx="294.1" cy="395.2" r="1.75"/><circle cx="294.1" cy="396.3" r="1.75"/><circle cx="294.1" cy="411.3" r="1.75"/><circle cx="294.1" cy="412.8" r="1.75"/><circle cx="294.1" cy="413.9" r="1.75"/><circle cx="298.1" cy="402.2" r="1.75"/><circle cx="306.3" cy="398.4" r="1.75"/><circle cx="314.4" cy="407.5" r="1.75"/><circle cx="387.8" cy="232.2" r="1.75"/><circle cx="387.8" cy="271.5" r="1.75"/></g>
<line x1="108.3" y1="649.5" x2="108.3" y2="646.0" stroke="#ddd" stroke-width="0.8"/>
<line x1="108.3" y1="445.5" x2="108.3" y2="449.0" stroke="#ddd" stroke-width="0.8"/>
<line x1="176.2" y1="649.5" x2="176.2" y2="646.0" stroke="#ddd" stroke-width="0.8"/>
<line x1="176.2" y1="445.5" x2="176.2" y2="449.0" stroke="#ddd" stroke-width="0.8"/>
<line x1="40.5" y1="496.5" x2="44.0" y2="496.5" stroke="#ddd" stroke-width="0.8"/>
<line x1="244.0" y1="496.5" x2="240.5" y2="496.5" stroke="#ddd" stroke-width="0.8"/>
<line x1="40.5" y1="547.5" x2="44.0" y2="547.5" stroke="#ddd" stroke-width="0.8"/>
<line x1="244.0" y1="547.5" x2="240.5" y2="547.5" stroke="#ddd" stroke-width="0.8"/>
<line x1="40.5" y1="598.5" x2="44.0" y2="598.5" stroke="#ddd" stroke-width="0.8"/>
<line x1="244.0" y1="598.5" x2="240.5" y2="598.5" stroke="#ddd" stroke-width="0.8"/>
<path d="M40.5 445.0V650.0M40.0 649.5H244.5M244.0 650.0V445.0M244.5 445.5H40.0" stroke="#404040" stroke-width="1.05" fill="none"/>
<line x1="40.4" y1="553.8" x2="194.4" y2="489.1" stroke="#0000cc" stroke-width="2.3"/>
<g fill="#000"><circle cx="43.5" cy="451.7" r="1.75"/><circle cx="50.0" cy="452.8" r="1.75"/><circle cx="52.2" cy="451.7" r="1.75"/><circle cx="53.3" cy="452.2" r="1.75"/><circle cx="59.4" cy="455.0" r="1.75"/><circle cx="68.6" cy="450.6" r="1.75"/><circle cx="75.6" cy="451.7" r="1.75"/><circle cx="101.4" cy="452.2" r="1.75"/><circle cx="105.7" cy="451.7" r="1.75"/><circle cx="111.2" cy="449.6" r="1.75"/><circle cx="116.2" cy="451.7" r="1.75"/><circle cx="131.5" cy="451.7" r="1.75"/><circle cx="50.0" cy="467.5" r="1.75"/><circle cx="55.5" cy="465.9" r="1.75"/><circle cx="48.5" cy="472.1" r="1.75"/><circle cx="64.7" cy="464.8" r="1.75"/><circle cx="70.3" cy="464.2" r="1.75"/><circle cx="74.7" cy="467.5" r="1.75"/><circle cx="71.9" cy="471.0" r="1.75"/><circle cx="76.9" cy="471.8" r="1.75"/><circle cx="79.5" cy="466.6" r="1.75"/><circle cx="90.0" cy="465.9" r="1.75"/><circle cx="95.2" cy="464.8" r="1.75"/><circle cx="97.4" cy="466.6" r="1.75"/><circle cx="102.5" cy="465.9" r="1.75"/><circle cx="122.8" cy="468.1" r="1.75"/><circle cx="127.1" cy="464.8" r="1.75"/><circle cx="127.6" cy="467.0" r="1.75"/><circle cx="132.4" cy="463.1" r="1.75"/><circle cx="132.4" cy="465.9" r="1.75"/><circle cx="137.4" cy="462.7" r="1.75"/><circle cx="138.5" cy="464.4" r="1.75"/><circle cx="141.1" cy="464.8" r="1.75"/><circle cx="80.6" cy="478.0" r="1.75"/><circle cx="85.6" cy="479.7" r="1.75"/><circle cx="86.5" cy="482.3" r="1.75"/><circle cx="91.5" cy="483.4" r="1.75"/><circle cx="61.6" cy="484.1" r="1.75"/><circle cx="106.8" cy="481.2" r="1.75"/><circle cx="119.3" cy="482.3" r="1.75"/><circle cx="140.7" cy="482.3" r="1.75"/><circle cx="43.5" cy="488.4" r="1.75"/><circle cx="51.1" cy="488.4" r="1.75"/><circle cx="52.2" cy="492.2" r="1.75"/><circle cx="49.4" cy="495.0" r="1.75"/><circle cx="64.7" cy="490.0" r="1.75"/><circle cx="76.9" cy="486.3" r="1.75"/><circle cx="80.6" cy="488.9" r="1.75"/><circle cx="122.1" cy="488.4" r="1.75"/><circle cx="136.3" cy="486.7" r="1.75"/><circle cx="46.3" cy="500.5" r="1.75"/><circle cx="59.8" cy="499.4" r="1.75"/><circle cx="60.9" cy="500.2" r="1.75"/><circle cx="58.8" cy="502.4" r="1.75"/><circle cx="53.7" cy="504.6" r="1.75"/><circle cx="55.0" cy="505.9" r="1.75"/><circle cx="66.4" cy="504.2" r="1.75"/><circle cx="76.2" cy="496.5" r="1.75"/><circle cx="96.6" cy="497.2" r="1.75"/><circle cx="101.4" cy="497.2" r="1.75"/><circle cx="106.8" cy="495.4" r="1.75"/><circle cx="113.4" cy="501.6" r="1.75"/><circle cx="124.3" cy="500.5" r="1.75"/><circle cx="135.2" cy="493.7" r="1.75"/><circle cx="139.6" cy="497.2" r="1.75"/><circle cx="43.5" cy="511.8" r="1.75"/><circle cx="76.2" cy="511.8" r="1.75"/><circle cx="83.9" cy="513.6" r="1.75"/><circle cx="86.5" cy="513.4" r="1.75"/><circle cx="92.2" cy="511.2" r="1.75"/><circle cx="109.0" cy="515.1" r="1.75"/><circle cx="118.8" cy="516.2" r="1.75"/><circle cx="41.3" cy="524.3" r="1.75"/><circle cx="46.3" cy="524.3" r="1.75"/><circle cx="73.0" cy="525.4" r="1.75"/><circle cx="91.5" cy="523.2" r="1.75"/><circle cx="44.1" cy="529.3" r="1.75"/><circle cx="60.9" cy="528.9" r="1.75"/><circle cx="70.8" cy="530.4" r="1.75"/><circle cx="112.7" cy="529.7" r="1.75"/><circle cx="125.4" cy="529.3" r="1.75"/><circle cx="140.7" cy="519.5" r="1.75"/><circle cx="51.5" cy="534.8" r="1.75"/><circle cx="76.2" cy="534.8" r="1.75"/><circle cx="90.0" cy="534.8" r="1.75"/><circle cx="58.1" cy="539.1" r="1.75"/><circle cx="97.0" cy="540.7" r="1.75"/><circle cx="121.5" cy="540.7" r="1.75"/><circle cx="66.4" cy="543.9" r="1.75"/><circle cx="87.2" cy="543.5" r="1.75"/><circle cx="102.5" cy="545.3" r="1.75"/><circle cx="129.3" cy="543.1" r="1.75"/><circle cx="133.0" cy="545.7" r="1.75"/><circle cx="140.7" cy="543.5" r="1.75"/><circle cx="144.2" cy="451.7" r="1.75"/><circle cx="161.2" cy="452.2" r="1.75"/><circle cx="167.1" cy="450.6" r="1.75"/><circle cx="153.4" cy="463.8" r="1.75"/><circle cx="158.4" cy="464.2" r="1.75"/><circle cx="165.6" cy="462.0" r="1.75"/><circle cx="170.8" cy="463.3" r="1.75"/><circle cx="182.4" cy="463.3" r="1.75"/><circle cx="187.4" cy="465.3" r="1.75"/><circle cx="189.0" cy="461.6" r="1.75"/><circle cx="194.0" cy="462.0" r="1.75"/><circle cx="158.4" cy="490.0" r="1.75"/><circle cx="169.3" cy="487.8" r="1.75"/><circle cx="175.2" cy="492.2" r="1.75"/><circle cx="152.5" cy="496.5" r="1.75"/><circle cx="157.7" cy="511.2" r="1.75"/><circle cx="148.6" cy="522.7" r="1.75"/><circle cx="151.2" cy="526.5" r="1.75"/><circle cx="173.0" cy="520.1" r="1.75"/><circle cx="164.3" cy="530.8" r="1.75"/><circle cx="148.6" cy="538.0" r="1.75"/><circle cx="157.3" cy="538.5" r="1.75"/><circle cx="179.1" cy="538.5" r="1.75"/><circle cx="49.4" cy="549.2" r="1.75"/><circle cx="57.7" cy="551.8" r="1.75"/><circle cx="56.6" cy="555.7" r="1.75"/><circle cx="69.7" cy="548.1" r="1.75"/><circle cx="70.8" cy="554.0" r="1.75"/><circle cx="66.8" cy="557.3" r="1.75"/><circle cx="82.8" cy="555.7" r="1.75"/><circle cx="92.2" cy="549.2" r="1.75"/><circle cx="95.2" cy="553.6" r="1.75"/><circle cx="105.7" cy="553.6" r="1.75"/><circle cx="113.4" cy="551.8" r="1.75"/><circle cx="134.1" cy="548.1" r="1.75"/><circle cx="98.1" cy="559.5" r="1.75"/><circle cx="97.0" cy="564.9" r="1.75"/><circle cx="117.1" cy="560.1" r="1.75"/><circle cx="113.4" cy="563.4" r="1.75"/><circle cx="119.3" cy="566.7" r="1.75"/><circle cx="125.8" cy="562.7" r="1.75"/><circle cx="127.6" cy="561.2" r="1.75"/><circle cx="45.6" cy="567.1" r="1.75"/><circle cx="46.7" cy="570.6" r="1.75"/><circle cx="58.1" cy="569.9" r="1.75"/><circle cx="62.0" cy="572.1" r="1.75"/><circle cx="60.9" cy="574.3" r="1.75"/><circle cx="65.3" cy="570.6" r="1.75"/><circle cx="66.0" cy="574.3" r="1.75"/><circle cx="72.5" cy="572.8" r="1.75"/><circle cx="79.9" cy="573.2" r="1.75"/><circle cx="90.9" cy="571.0" r="1.75"/><circle cx="95.9" cy="572.8" r="1.75"/><circle cx="93.1" cy="575.0" r="1.75"/><circle cx="131.9" cy="572.6" r="1.75"/><circle cx="138.9" cy="576.1" r="1.75"/><circle cx="70.8" cy="577.6" r="1.75"/><circle cx="73.4" cy="578.0" r="1.75"/><circle cx="75.6" cy="580.9" r="1.75"/><circle cx="77.8" cy="580.9" r="1.75"/><circle cx="55.9" cy="579.3" r="1.75"/><circle cx="87.8" cy="580.2" r="1.75"/><circle cx="101.4" cy="577.6" r="1.75"/><circle cx="103.5" cy="581.5" r="1.75"/><circle cx="100.3" cy="584.6" r="1.75"/><circle cx="102.5" cy="586.8" r="1.75"/><circle cx="45.6" cy="585.2" r="1.75"/><circle cx="49.4" cy="583.7" r="1.75"/><circle cx="85.6" cy="586.3" r="1.75"/><circle cx="66.4" cy="587.4" r="1.75"/><circle cx="62.0" cy="588.9" r="1.75"/><circle cx="57.2" cy="588.9" r="1.75"/><circle cx="131.9" cy="586.3" r="1.75"/><circle cx="44.6" cy="590.7" r="1.75"/><circle cx="47.2" cy="590.3" r="1.75"/><circle cx="50.0" cy="590.7" r="1.75"/><circle cx="44.6" cy="593.3" r="1.75"/><circle cx="47.8" cy="594.0" r="1.75"/><circle cx="50.7" cy="594.6" r="1.75"/><circle cx="52.9" cy="596.2" r="1.75"/><circle cx="45.6" cy="597.3" r="1.75"/><circle cx="50.0" cy="597.7" r="1.75"/><circle cx="54.4" cy="597.3" r="1.75"/><circle cx="55.5" cy="599.4" r="1.75"/><circle cx="42.8" cy="599.9" r="1.75"/><circle cx="88.7" cy="595.1" r="1.75"/><circle cx="96.6" cy="594.0" r="1.75"/><circle cx="103.5" cy="592.4" r="1.75"/><circle cx="105.7" cy="592.9" r="1.75"/><circle cx="107.9" cy="593.3" r="1.75"/><circle cx="116.2" cy="590.0" r="1.75"/><circle cx="122.8" cy="590.0" r="1.75"/><circle cx="70.3" cy="599.0" r="1.75"/><circle cx="73.0" cy="601.2" r="1.75"/><circle cx="79.1" cy="599.9" r="1.75"/><circle cx="83.4" cy="602.7" r="1.75"/><circle cx="55.0" cy="604.2" r="1.75"/><circle cx="64.7" cy="604.9" r="1.75"/><circle cx="75.6" cy="606.4" r="1.75"/><circle cx="91.5" cy="607.1" r="1.75"/><circle cx="109.0" cy="604.2" r="1.75"/><circle cx="47.8" cy="610.8" r="1.75"/><circle cx="55.5" cy="612.1" r="1.75"/><circle cx="63.1" cy="608.6" r="1.75"/><circle cx="80.6" cy="613.0" r="1.75"/><circle cx="82.8" cy="610.8" r="1.75"/><circle cx="98.7" cy="610.8" r="1.75"/><circle cx="65.3" cy="619.5" r="1.75"/><circle cx="63.8" cy="620.8" r="1.75"/><circle cx="68.6" cy="629.6" r="1.75"/><circle cx="143.7" cy="551.8" r="1.75"/><circle cx="156.2" cy="553.6" r="1.75"/><circle cx="155.1" cy="558.4" r="1.75"/></g>
<line x1="310.5" y1="649.5" x2="310.5" y2="646.0" stroke="#ddd" stroke-width="0.8"/>
<line x1="310.5" y1="445.5" x2="310.5" y2="449.0" stroke="#ddd" stroke-width="0.8"/>
<line x1="351.2" y1="649.5" x2="351.2" y2="646.0" stroke="#ddd" stroke-width="0.8"/>
<line x1="351.2" y1="445.5" x2="351.2" y2="449.0" stroke="#ddd" stroke-width="0.8"/>
<line x1="392.0" y1="649.5" x2="392.0" y2="646.0" stroke="#ddd" stroke-width="0.8"/>
<line x1="392.0" y1="445.5" x2="392.0" y2="449.0" stroke="#ddd" stroke-width="0.8"/>
<line x1="432.7" y1="649.5" x2="432.7" y2="646.0" stroke="#ddd" stroke-width="0.8"/>
<line x1="432.7" y1="445.5" x2="432.7" y2="449.0" stroke="#ddd" stroke-width="0.8"/>
<line x1="269.7" y1="496.5" x2="273.2" y2="496.5" stroke="#ddd" stroke-width="0.8"/>
<line x1="473.5" y1="496.5" x2="470.0" y2="496.5" stroke="#ddd" stroke-width="0.8"/>
<line x1="269.7" y1="547.5" x2="273.2" y2="547.5" stroke="#ddd" stroke-width="0.8"/>
<line x1="473.5" y1="547.5" x2="470.0" y2="547.5" stroke="#ddd" stroke-width="0.8"/>
<line x1="269.7" y1="598.5" x2="273.2" y2="598.5" stroke="#ddd" stroke-width="0.8"/>
<line x1="473.5" y1="598.5" x2="470.0" y2="598.5" stroke="#ddd" stroke-width="0.8"/>
<path d="M269.7 445.0V650.0M269.2 649.5H474.0M473.5 650.0V445.0M474.0 445.5H269.2" stroke="#404040" stroke-width="1.05" fill="none"/>
<line x1="269.6" y1="578.9" x2="413.0" y2="445.0" stroke="#dd0000" stroke-width="2.3"/>
<g fill="#000"><circle cx="306.3" cy="487.8" r="1.75"/><circle cx="298.1" cy="496.3" r="1.75"/><circle cx="322.6" cy="492.0" r="1.75"/><circle cx="322.6" cy="496.1" r="1.75"/><circle cx="326.7" cy="482.1" r="1.75"/><circle cx="330.7" cy="486.3" r="1.75"/><circle cx="330.7" cy="493.5" r="1.75"/><circle cx="334.8" cy="486.7" r="1.75"/><circle cx="334.8" cy="488.2" r="1.75"/><circle cx="334.8" cy="489.5" r="1.75"/><circle cx="338.9" cy="492.0" r="1.75"/><circle cx="338.9" cy="496.1" r="1.75"/><circle cx="343.0" cy="472.3" r="1.75"/><circle cx="347.0" cy="470.8" r="1.75"/><circle cx="347.0" cy="482.1" r="1.75"/><circle cx="347.0" cy="483.6" r="1.75"/><circle cx="347.0" cy="488.4" r="1.75"/><circle cx="351.1" cy="481.3" r="1.75"/><circle cx="351.1" cy="482.9" r="1.75"/><circle cx="351.1" cy="484.4" r="1.75"/><circle cx="351.1" cy="495.8" r="1.75"/><circle cx="355.2" cy="487.8" r="1.75"/><circle cx="355.2" cy="489.5" r="1.75"/><circle cx="359.3" cy="467.1" r="1.75"/><circle cx="359.3" cy="479.5" r="1.75"/><circle cx="359.3" cy="494.6" r="1.75"/><circle cx="363.3" cy="463.4" r="1.75"/><circle cx="363.3" cy="468.2" r="1.75"/><circle cx="363.3" cy="477.9" r="1.75"/><circle cx="363.3" cy="490.1" r="1.75"/><circle cx="367.4" cy="461.4" r="1.75"/><circle cx="367.4" cy="466.3" r="1.75"/><circle cx="371.5" cy="465.1" r="1.75"/><circle cx="371.5" cy="466.6" r="1.75"/><circle cx="371.5" cy="467.7" r="1.75"/><circle cx="375.6" cy="464.6" r="1.75"/><circle cx="375.6" cy="466.8" r="1.75"/><circle cx="379.7" cy="468.2" r="1.75"/><circle cx="383.7" cy="462.5" r="1.75"/><circle cx="383.7" cy="464.0" r="1.75"/><circle cx="383.7" cy="465.7" r="1.75"/><circle cx="387.8" cy="462.1" r="1.75"/><circle cx="387.8" cy="463.6" r="1.75"/><circle cx="387.8" cy="465.1" r="1.75"/><circle cx="387.8" cy="466.8" r="1.75"/><circle cx="391.9" cy="461.4" r="1.75"/><circle cx="391.9" cy="463.2" r="1.75"/><circle cx="391.9" cy="465.1" r="1.75"/><circle cx="391.9" cy="466.8" r="1.75"/><circle cx="391.9" cy="472.5" r="1.75"/><circle cx="396.0" cy="466.6" r="1.75"/><circle cx="400.0" cy="453.0" r="1.75"/><circle cx="416.3" cy="452.1" r="1.75"/><circle cx="416.3" cy="453.4" r="1.75"/><circle cx="416.3" cy="454.9" r="1.75"/><circle cx="420.4" cy="451.5" r="1.75"/><circle cx="424.5" cy="452.6" r="1.75"/><circle cx="428.6" cy="451.8" r="1.75"/><circle cx="432.6" cy="451.5" r="1.75"/><circle cx="440.8" cy="449.5" r="1.75"/><circle cx="440.8" cy="451.2" r="1.75"/><circle cx="444.9" cy="450.3" r="1.75"/><circle cx="444.9" cy="451.8" r="1.75"/><circle cx="448.9" cy="451.8" r="1.75"/><circle cx="269.6" cy="530.8" r="1.75"/><circle cx="269.6" cy="542.9" r="1.75"/><circle cx="273.7" cy="520.3" r="1.75"/><circle cx="273.7" cy="529.3" r="1.75"/><circle cx="273.7" cy="537.8" r="1.75"/><circle cx="277.8" cy="539.5" r="1.75"/><circle cx="281.8" cy="519.5" r="1.75"/><circle cx="281.8" cy="534.7" r="1.75"/><circle cx="281.8" cy="543.5" r="1.75"/><circle cx="281.8" cy="546.9" r="1.75"/><circle cx="285.9" cy="510.8" r="1.75"/><circle cx="285.9" cy="545.8" r="1.75"/><circle cx="285.9" cy="547.5" r="1.75"/><circle cx="285.9" cy="549.2" r="1.75"/><circle cx="290.0" cy="538.4" r="1.75"/><circle cx="290.0" cy="548.6" r="1.75"/><circle cx="294.1" cy="515.2" r="1.75"/><circle cx="294.1" cy="540.7" r="1.75"/><circle cx="294.1" cy="542.9" r="1.75"/><circle cx="294.1" cy="544.6" r="1.75"/><circle cx="294.1" cy="549.2" r="1.75"/><circle cx="298.1" cy="522.2" r="1.75"/><circle cx="298.1" cy="524.0" r="1.75"/><circle cx="298.1" cy="525.9" r="1.75"/><circle cx="298.1" cy="527.6" r="1.75"/><circle cx="298.1" cy="529.7" r="1.75"/><circle cx="302.2" cy="529.3" r="1.75"/><circle cx="302.2" cy="535.0" r="1.75"/><circle cx="306.3" cy="501.8" r="1.75"/><circle cx="306.3" cy="505.5" r="1.75"/><circle cx="306.3" cy="523.3" r="1.75"/><circle cx="306.3" cy="530.5" r="1.75"/><circle cx="310.4" cy="513.4" r="1.75"/><circle cx="310.4" cy="524.2" r="1.75"/><circle cx="310.4" cy="528.8" r="1.75"/><circle cx="314.4" cy="538.7" r="1.75"/><circle cx="314.4" cy="540.3" r="1.75"/><circle cx="318.5" cy="500.4" r="1.75"/><circle cx="318.5" cy="511.7" r="1.75"/><circle cx="318.5" cy="516.3" r="1.75"/><circle cx="322.6" cy="524.2" r="1.75"/><circle cx="322.6" cy="535.0" r="1.75"/><circle cx="326.7" cy="510.6" r="1.75"/><circle cx="326.7" cy="512.3" r="1.75"/><circle cx="326.7" cy="514.0" r="1.75"/><circle cx="326.7" cy="548.6" r="1.75"/><circle cx="334.8" cy="499.0" r="1.75"/><circle cx="334.8" cy="502.7" r="1.75"/><circle cx="338.9" cy="504.4" r="1.75"/><circle cx="343.0" cy="511.7" r="1.75"/><circle cx="351.1" cy="499.3" r="1.75"/><circle cx="355.2" cy="500.6" r="1.75"/><circle cx="359.3" cy="504.4" r="1.75"/><circle cx="269.6" cy="555.8" r="1.75"/><circle cx="269.6" cy="572.3" r="1.75"/><circle cx="269.6" cy="581.1" r="1.75"/><circle cx="269.6" cy="584.8" r="1.75"/><circle cx="269.6" cy="595.5" r="1.75"/><circle cx="273.7" cy="552.1" r="1.75"/><circle cx="273.7" cy="553.5" r="1.75"/><circle cx="273.7" cy="559.8" r="1.75"/><circle cx="273.7" cy="564.8" r="1.75"/><circle cx="273.7" cy="570.5" r="1.75"/><circle cx="273.7" cy="572.6" r="1.75"/><circle cx="273.7" cy="574.3" r="1.75"/><circle cx="273.7" cy="576.0" r="1.75"/><circle cx="273.7" cy="578.2" r="1.75"/><circle cx="273.7" cy="586.2" r="1.75"/><circle cx="273.7" cy="592.4" r="1.75"/><circle cx="273.7" cy="593.9" r="1.75"/><circle cx="273.7" cy="597.5" r="1.75"/><circle cx="273.7" cy="599.2" r="1.75"/><circle cx="273.7" cy="600.9" r="1.75"/><circle cx="273.7" cy="603.0" r="1.75"/><circle cx="277.8" cy="553.8" r="1.75"/><circle cx="277.8" cy="563.7" r="1.75"/><circle cx="277.8" cy="581.6" r="1.75"/><circle cx="277.8" cy="589.0" r="1.75"/><circle cx="277.8" cy="596.9" r="1.75"/><circle cx="277.8" cy="598.6" r="1.75"/><circle cx="277.8" cy="600.9" r="1.75"/><circle cx="277.8" cy="604.3" r="1.75"/><circle cx="281.8" cy="558.7" r="1.75"/><circle cx="281.8" cy="566.3" r="1.75"/><circle cx="281.8" cy="567.8" r="1.75"/><circle cx="281.8" cy="572.3" r="1.75"/><circle cx="281.8" cy="580.7" r="1.75"/><circle cx="281.8" cy="583.9" r="1.75"/><circle cx="281.8" cy="585.6" r="1.75"/><circle cx="281.8" cy="593.5" r="1.75"/><circle cx="281.8" cy="595.8" r="1.75"/><circle cx="281.8" cy="597.5" r="1.75"/><circle cx="285.9" cy="561.0" r="1.75"/><circle cx="285.9" cy="570.5" r="1.75"/><circle cx="285.9" cy="572.6" r="1.75"/><circle cx="285.9" cy="583.3" r="1.75"/><circle cx="285.9" cy="585.0" r="1.75"/><circle cx="285.9" cy="587.1" r="1.75"/><circle cx="285.9" cy="589.0" r="1.75"/><circle cx="285.9" cy="594.7" r="1.75"/><circle cx="290.0" cy="552.1" r="1.75"/><circle cx="290.0" cy="562.9" r="1.75"/><circle cx="290.0" cy="577.7" r="1.75"/><circle cx="290.0" cy="590.1" r="1.75"/><circle cx="290.0" cy="598.6" r="1.75"/><circle cx="290.0" cy="603.8" r="1.75"/><circle cx="294.1" cy="580.3" r="1.75"/><circle cx="294.1" cy="589.0" r="1.75"/><circle cx="294.1" cy="590.5" r="1.75"/><circle cx="294.1" cy="597.3" r="1.75"/><circle cx="294.1" cy="600.9" r="1.75"/><circle cx="298.1" cy="554.2" r="1.75"/><circle cx="298.1" cy="559.2" r="1.75"/><circle cx="298.1" cy="577.7" r="1.75"/><circle cx="298.1" cy="592.7" r="1.75"/><circle cx="298.1" cy="603.4" r="1.75"/><circle cx="302.2" cy="552.1" r="1.75"/><circle cx="302.2" cy="556.1" r="1.75"/><circle cx="302.2" cy="600.3" r="1.75"/><circle cx="310.4" cy="553.8" r="1.75"/><circle cx="310.4" cy="570.1" r="1.75"/><circle cx="310.4" cy="577.7" r="1.75"/><circle cx="314.4" cy="592.1" r="1.75"/><circle cx="318.5" cy="574.3" r="1.75"/><circle cx="269.6" cy="610.8" r="1.75"/><circle cx="273.7" cy="607.0" r="1.75"/><circle cx="277.8" cy="606.6" r="1.75"/><circle cx="277.8" cy="610.8" r="1.75"/><circle cx="277.8" cy="613.4" r="1.75"/><circle cx="285.9" cy="608.6" r="1.75"/><circle cx="290.0" cy="629.7" r="1.75"/><circle cx="294.1" cy="612.0" r="1.75"/><circle cx="294.1" cy="620.8" r="1.75"/><circle cx="302.2" cy="619.5" r="1.75"/><circle cx="326.7" cy="557.6" r="1.75"/><circle cx="322.6" cy="572.0" r="1.75"/></g>
<text x="35.2" y="7.8" font-size="10.5" text-anchor="end" fill="#222" stroke="#222" stroke-width="0.2">1.0</text>
<text x="35.2" y="58.8" font-size="10.5" text-anchor="end" fill="#222" stroke="#222" stroke-width="0.2">0.8</text>
<text x="35.2" y="109.8" font-size="10.5" text-anchor="end" fill="#222" stroke="#222" stroke-width="0.2">0.6</text>
<text x="35.2" y="160.8" font-size="10.5" text-anchor="end" fill="#222" stroke="#222" stroke-width="0.2">0.4</text>
<text x="35.2" y="211.8" font-size="10.5" text-anchor="end" fill="#222" stroke="#222" stroke-width="0.2">0.2</text>
<text x="35.2" y="228.3" font-size="10.5" text-anchor="end" fill="#222" stroke="#222" stroke-width="0.2">1.0</text>
<text x="35.2" y="279.2" font-size="10.5" text-anchor="end" fill="#222" stroke="#222" stroke-width="0.2">0.8</text>
<text x="35.2" y="330.1" font-size="10.5" text-anchor="end" fill="#222" stroke="#222" stroke-width="0.2">0.6</text>
<text x="35.2" y="380.9" font-size="10.5" text-anchor="end" fill="#222" stroke="#222" stroke-width="0.2">0.4</text>
<text x="35.2" y="431.8" font-size="10.5" text-anchor="end" fill="#222" stroke="#222" stroke-width="0.2">0.2</text>
<text x="35.2" y="448.3" font-size="10.5" text-anchor="end" fill="#222" stroke="#222" stroke-width="0.2">1.0</text>
<text x="35.2" y="499.3" font-size="10.5" text-anchor="end" fill="#222" stroke="#222" stroke-width="0.2">0.8</text>
<text x="35.2" y="550.3" font-size="10.5" text-anchor="end" fill="#222" stroke="#222" stroke-width="0.2">0.6</text>
<text x="35.2" y="601.3" font-size="10.5" text-anchor="end" fill="#222" stroke="#222" stroke-width="0.2">0.4</text>
<text x="35.2" y="652.3" font-size="10.5" text-anchor="end" fill="#222" stroke="#222" stroke-width="0.2">0.2</text>
<text transform="translate(10.1,106.9) rotate(-90)" font-size="13.6" text-anchor="middle" fill="#111" stroke="#111" stroke-width="0.25">Community distance</text>
<text transform="translate(10.1,327.1) rotate(-90)" font-size="13.6" text-anchor="middle" fill="#111" stroke="#111" stroke-width="0.25">Community distance</text>
<text transform="translate(10.1,547.4) rotate(-90)" font-size="13.6" text-anchor="middle" fill="#111" stroke="#111" stroke-width="0.25">Community distance</text>
<text x="40.5" y="661" font-size="10.5" text-anchor="middle" fill="#222" stroke="#222" stroke-width="0.2">0</text>
<text x="108.3" y="661" font-size="10.5" text-anchor="middle" fill="#222" stroke="#222" stroke-width="0.2">0.5</text>
<text x="176.2" y="661" font-size="10.5" text-anchor="middle" fill="#222" stroke="#222" stroke-width="0.2">1</text>
<text x="244.0" y="661" font-size="10.5" text-anchor="middle" fill="#222" stroke="#222" stroke-width="0.2">1.5</text>
<text x="269.7" y="661" font-size="10.5" text-anchor="middle" fill="#222" stroke="#222" stroke-width="0.2">0</text>
<text x="310.5" y="661" font-size="10.5" text-anchor="middle" fill="#222" stroke="#222" stroke-width="0.2">1</text>
<text x="351.2" y="661" font-size="10.5" text-anchor="middle" fill="#222" stroke="#222" stroke-width="0.2">2</text>
<text x="392.0" y="661" font-size="10.5" text-anchor="middle" fill="#222" stroke="#222" stroke-width="0.2">3</text>
<text x="432.7" y="661" font-size="10.5" text-anchor="middle" fill="#222" stroke="#222" stroke-width="0.2">4</text>
<text x="473.5" y="661" font-size="10.5" text-anchor="middle" fill="#222" stroke="#222" stroke-width="0.2">5</text>
<text x="142.3" y="682" font-size="13.75" text-anchor="middle" fill="#111" stroke="#111" stroke-width="0.25">Salt tolerance distance</text>
<text x="371.8" y="682" font-size="13.75" text-anchor="middle" fill="#111" stroke="#111" stroke-width="0.25">pH tolerance distance</text>
<text x="142.0" y="168.8" font-size="10.15" font-style="italic" fill="#111" stroke="#111" stroke-width="0.2">ρ</text>
<text x="152.9" y="168.8" font-size="10.15" fill="#111" stroke="#111" stroke-width="0.2">= 0.35, p < 0.001</text>
<text x="363.3" y="142.5" font-size="10.15" font-style="italic" fill="#111" stroke="#111" stroke-width="0.2">ρ</text>
<text x="375.1" y="142.5" font-size="10.15" fill="#111" stroke="#111" stroke-width="0.2">= 0.56, p < 0.001</text>
<text x="145.0" y="321.8" font-size="10.15" font-style="italic" fill="#111" stroke="#111" stroke-width="0.2">ρ</text>
<text x="153.0" y="321.8" font-size="10.15" fill="#111" stroke="#111" stroke-width="0.2">= 0.54, p < 0.001</text>
<text x="362.7" y="359.6" font-size="10.15" font-style="italic" fill="#111" stroke="#111" stroke-width="0.2">ρ</text>
<text x="374.3" y="359.6" font-size="10.15" fill="#111" stroke="#111" stroke-width="0.2">= 0.34, p < 0.01</text>
<text x="148.5" y="605.0" font-size="10.15" font-style="italic" fill="#111" stroke="#111" stroke-width="0.2">ρ</text>
<text x="160.0" y="605.0" font-size="10.15" fill="#111" stroke="#111" stroke-width="0.2">= 0.29, p < 0.01</text>
<text x="355.2" y="543.0" font-size="10.15" font-style="italic" fill="#111" stroke="#111" stroke-width="0.2">ρ</text>
<text x="366.0" y="543.0" font-size="10.15" fill="#111" stroke="#111" stroke-width="0.2">= 0.84, p < 0.001</text>
<text x="221.8" y="197.9" font-size="16" fill="#111" stroke="#111" stroke-width="0.25">A</text>
<text x="450.9" y="197.4" font-size="16" fill="#111" stroke="#111" stroke-width="0.25">B</text>
<text x="221.6" y="417.9" font-size="16" fill="#111" stroke="#111" stroke-width="0.25">C</text>
<text x="450.9" y="417.7" font-size="16" fill="#111" stroke="#111" stroke-width="0.25">D</text>
<text x="221.6" y="637.9" font-size="16" fill="#111" stroke="#111" stroke-width="0.25">E</text>
<text x="451.1" y="637.7" font-size="16" fill="#111" stroke="#111" stroke-width="0.25">F</text>
</svg></body></html>
